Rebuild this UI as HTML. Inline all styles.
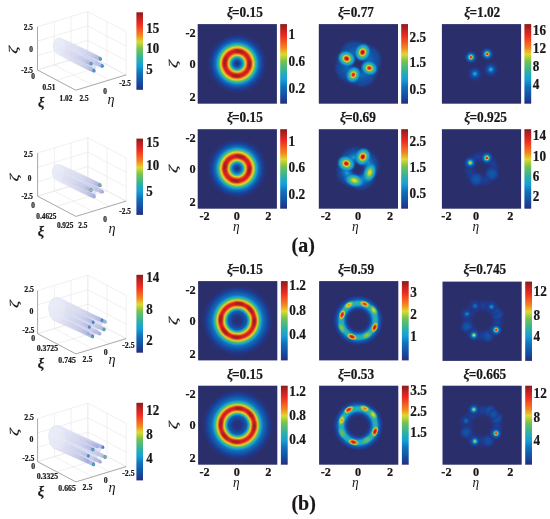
<!DOCTYPE html>
<html><head><meta charset="utf-8"><title>Figure</title>
<style>html,body{margin:0;padding:0;background:#fff}svg{display:block}text{font-family:"Liberation Serif",serif;fill:#1a1617}text[font-weight=bold]{stroke:#1a1617;stroke-width:.22px}</style>
</head><body>
<svg width="550" height="519" viewBox="0 0 550 519">
<defs><linearGradient id="cb" x1="0" y1="0" x2="0" y2="1"><stop offset="0.000" stop-color="#8b1a1a"/><stop offset="0.050" stop-color="#b02020"/><stop offset="0.150" stop-color="#ee2a24"/><stop offset="0.300" stop-color="#f58620"/><stop offset="0.380" stop-color="#dcda30"/><stop offset="0.470" stop-color="#74c250"/><stop offset="0.590" stop-color="#30b2a0"/><stop offset="0.690" stop-color="#14a0d8"/><stop offset="0.785" stop-color="#1270ba"/><stop offset="0.900" stop-color="#1250a2"/><stop offset="0.965" stop-color="#203890"/><stop offset="1.000" stop-color="#2a2f6c"/></linearGradient>
<filter id="b1" x="-50%" y="-50%" width="200%" height="200%"><feGaussianBlur stdDeviation="0.8"/></filter>
<filter id="b2" x="-50%" y="-50%" width="200%" height="200%"><feGaussianBlur stdDeviation="1.6"/></filter>
<radialGradient id="g1"><stop offset="0.000" stop-color="#2a2f6c"/><stop offset="0.017" stop-color="#273276"/><stop offset="0.033" stop-color="#243481"/><stop offset="0.050" stop-color="#21378b"/><stop offset="0.067" stop-color="#1c3f95"/><stop offset="0.083" stop-color="#17479c"/><stop offset="0.100" stop-color="#1250a2"/><stop offset="0.117" stop-color="#125aaa"/><stop offset="0.133" stop-color="#1264b1"/><stop offset="0.150" stop-color="#126eb9"/><stop offset="0.167" stop-color="#137fc3"/><stop offset="0.183" stop-color="#1391cf"/><stop offset="0.200" stop-color="#18a3cf"/><stop offset="0.217" stop-color="#2eb1a3"/><stop offset="0.233" stop-color="#59bc6f"/><stop offset="0.250" stop-color="#89c74a"/><stop offset="0.267" stop-color="#bdd33a"/><stop offset="0.283" stop-color="#e1cb2d"/><stop offset="0.300" stop-color="#eca526"/><stop offset="0.317" stop-color="#f47f20"/><stop offset="0.333" stop-color="#f25b22"/><stop offset="0.350" stop-color="#ef3723"/><stop offset="0.367" stop-color="#e42823"/><stop offset="0.383" stop-color="#cf2522"/><stop offset="0.400" stop-color="#c32321"/><stop offset="0.417" stop-color="#c12321"/><stop offset="0.433" stop-color="#cb2422"/><stop offset="0.450" stop-color="#da2723"/><stop offset="0.467" stop-color="#ed2a24"/><stop offset="0.483" stop-color="#f15022"/><stop offset="0.500" stop-color="#f58620"/><stop offset="0.517" stop-color="#eda225"/><stop offset="0.533" stop-color="#e4be2b"/><stop offset="0.550" stop-color="#dcda30"/><stop offset="0.567" stop-color="#b1d03d"/><stop offset="0.583" stop-color="#85c64b"/><stop offset="0.600" stop-color="#63be64"/><stop offset="0.617" stop-color="#47b785"/><stop offset="0.633" stop-color="#2db0a6"/><stop offset="0.650" stop-color="#1fa7c2"/><stop offset="0.667" stop-color="#149dd6"/><stop offset="0.683" stop-color="#138ecd"/><stop offset="0.700" stop-color="#137fc3"/><stop offset="0.717" stop-color="#1270ba"/><stop offset="0.733" stop-color="#126ab5"/><stop offset="0.750" stop-color="#1263b0"/><stop offset="0.767" stop-color="#125dac"/><stop offset="0.783" stop-color="#1256a7"/><stop offset="0.800" stop-color="#1250a2"/><stop offset="0.817" stop-color="#154a9e"/><stop offset="0.833" stop-color="#18459a"/><stop offset="0.850" stop-color="#1c3f96"/><stop offset="0.867" stop-color="#1f3a91"/><stop offset="0.883" stop-color="#21378e"/><stop offset="0.900" stop-color="#233687"/><stop offset="0.917" stop-color="#253480"/><stop offset="0.933" stop-color="#273278"/><stop offset="0.950" stop-color="#273175"/><stop offset="0.967" stop-color="#283172"/><stop offset="0.983" stop-color="#29306f"/><stop offset="1.000" stop-color="#2a2f6c"/></radialGradient>
<clipPath id="c1"><rect x="197.7" y="24.1" width="79.2" height="79.6"/></clipPath>
<clipPath id="c2"><rect x="197.7" y="129.2" width="79.2" height="79.5"/></clipPath>
<radialGradient id="g2"><stop offset="0.000" stop-color="#2a2f6c"/><stop offset="0.014" stop-color="#29306f"/><stop offset="0.028" stop-color="#293071"/><stop offset="0.042" stop-color="#283174"/><stop offset="0.056" stop-color="#273276"/><stop offset="0.070" stop-color="#273279"/><stop offset="0.085" stop-color="#26337b"/><stop offset="0.099" stop-color="#25337e"/><stop offset="0.113" stop-color="#243480"/><stop offset="0.127" stop-color="#223689"/><stop offset="0.141" stop-color="#1f3991"/><stop offset="0.155" stop-color="#1d3d94"/><stop offset="0.169" stop-color="#1b4197"/><stop offset="0.183" stop-color="#18469b"/><stop offset="0.197" stop-color="#154b9e"/><stop offset="0.211" stop-color="#1250a2"/><stop offset="0.225" stop-color="#1254a5"/><stop offset="0.239" stop-color="#1257a8"/><stop offset="0.254" stop-color="#125baa"/><stop offset="0.268" stop-color="#1269b5"/><stop offset="0.282" stop-color="#137dc2"/><stop offset="0.296" stop-color="#1496d2"/><stop offset="0.310" stop-color="#21a8be"/><stop offset="0.324" stop-color="#3fb58f"/><stop offset="0.338" stop-color="#6bc05a"/><stop offset="0.352" stop-color="#94c946"/><stop offset="0.366" stop-color="#bcd33a"/><stop offset="0.380" stop-color="#dfd12e"/><stop offset="0.394" stop-color="#eda225"/><stop offset="0.408" stop-color="#f47521"/><stop offset="0.423" stop-color="#f04a23"/><stop offset="0.437" stop-color="#eb2a24"/><stop offset="0.451" stop-color="#d42622"/><stop offset="0.465" stop-color="#c42321"/><stop offset="0.479" stop-color="#c22321"/><stop offset="0.493" stop-color="#cf2522"/><stop offset="0.507" stop-color="#e62924"/><stop offset="0.521" stop-color="#f04123"/><stop offset="0.535" stop-color="#f36c21"/><stop offset="0.549" stop-color="#f09723"/><stop offset="0.563" stop-color="#e4c12b"/><stop offset="0.577" stop-color="#cbd635"/><stop offset="0.592" stop-color="#9fcc43"/><stop offset="0.606" stop-color="#74c250"/><stop offset="0.620" stop-color="#58bb71"/><stop offset="0.634" stop-color="#3bb593"/><stop offset="0.648" stop-color="#28adb1"/><stop offset="0.662" stop-color="#1aa4cd"/><stop offset="0.676" stop-color="#1498d3"/><stop offset="0.690" stop-color="#138bcb"/><stop offset="0.704" stop-color="#137dc2"/><stop offset="0.718" stop-color="#1270ba"/><stop offset="0.732" stop-color="#126bb7"/><stop offset="0.746" stop-color="#1267b3"/><stop offset="0.761" stop-color="#1262b0"/><stop offset="0.775" stop-color="#125eac"/><stop offset="0.789" stop-color="#1259a9"/><stop offset="0.803" stop-color="#1255a5"/><stop offset="0.817" stop-color="#1250a2"/><stop offset="0.831" stop-color="#154c9f"/><stop offset="0.845" stop-color="#17479b"/><stop offset="0.859" stop-color="#1a4398"/><stop offset="0.873" stop-color="#1c3e95"/><stop offset="0.887" stop-color="#1f3a91"/><stop offset="0.901" stop-color="#21378e"/><stop offset="0.915" stop-color="#233687"/><stop offset="0.930" stop-color="#253480"/><stop offset="0.944" stop-color="#273278"/><stop offset="0.958" stop-color="#273175"/><stop offset="0.972" stop-color="#283172"/><stop offset="0.986" stop-color="#29306f"/><stop offset="1.000" stop-color="#2a2f6c"/></radialGradient>
<clipPath id="c3"><rect x="198.1" y="281.1" width="79.2" height="79.3"/></clipPath>
<clipPath id="c4"><rect x="198.1" y="385.7" width="79.2" height="79.0"/></clipPath>
<radialGradient id="g3"><stop offset="0.000" stop-color="#2a2f6c"/><stop offset="0.036" stop-color="#2a2f6c"/><stop offset="0.071" stop-color="#2a2f6c"/><stop offset="0.107" stop-color="#2a2f6c"/><stop offset="0.143" stop-color="#2a2f6c"/><stop offset="0.179" stop-color="#2a2f6c"/><stop offset="0.214" stop-color="#273175"/><stop offset="0.250" stop-color="#243481"/><stop offset="0.286" stop-color="#21378c"/><stop offset="0.321" stop-color="#1e3b92"/><stop offset="0.357" stop-color="#194499"/><stop offset="0.393" stop-color="#144da0"/><stop offset="0.429" stop-color="#1255a6"/><stop offset="0.464" stop-color="#125aaa"/><stop offset="0.500" stop-color="#125eac"/><stop offset="0.536" stop-color="#1262af"/><stop offset="0.571" stop-color="#1265b2"/><stop offset="0.607" stop-color="#1269b5"/><stop offset="0.643" stop-color="#1266b3"/><stop offset="0.679" stop-color="#1264b1"/><stop offset="0.714" stop-color="#1261af"/><stop offset="0.750" stop-color="#125ead"/><stop offset="0.786" stop-color="#125bab"/><stop offset="0.821" stop-color="#1259a9"/><stop offset="0.857" stop-color="#1257a7"/><stop offset="0.893" stop-color="#1254a5"/><stop offset="0.929" stop-color="#1252a3"/><stop offset="0.964" stop-color="#124fa2"/><stop offset="1.000" stop-color="#144c9f"/></radialGradient>
<radialGradient id="g4"><stop offset="0.000" stop-color="#8b1a1a"/><stop offset="0.045" stop-color="#951c1c"/><stop offset="0.091" stop-color="#9f1d1d"/><stop offset="0.136" stop-color="#c02221"/><stop offset="0.182" stop-color="#e22823"/><stop offset="0.227" stop-color="#f14e22"/><stop offset="0.273" stop-color="#f58020"/><stop offset="0.318" stop-color="#e6b92a"/><stop offset="0.364" stop-color="#c2d438"/><stop offset="0.409" stop-color="#86c64b"/><stop offset="0.455" stop-color="#62be65"/><stop offset="0.500" stop-color="#49b883"/><stop offset="0.545" stop-color="#30b2a0"/><stop offset="0.591" stop-color="#27acb2"/><stop offset="0.636" stop-color="#1fa7c2"/><stop offset="0.682" stop-color="#17a2d2"/><stop offset="0.727" stop-color="#1497d3" stop-opacity="0.97"/><stop offset="0.773" stop-color="#1389ca" stop-opacity="0.81"/><stop offset="0.818" stop-color="#127bc1" stop-opacity="0.65"/><stop offset="0.864" stop-color="#126fb9" stop-opacity="0.49"/><stop offset="0.909" stop-color="#126ab6" stop-opacity="0.32"/><stop offset="0.955" stop-color="#1266b2" stop-opacity="0.16"/><stop offset="1.000" stop-color="#1261af" stop-opacity="0.00"/></radialGradient>
<radialGradient id="g5"><stop offset="0.000" stop-color="#c32321"/><stop offset="0.048" stop-color="#cb2422"/><stop offset="0.095" stop-color="#d32622"/><stop offset="0.143" stop-color="#ee2e24"/><stop offset="0.190" stop-color="#f15022"/><stop offset="0.238" stop-color="#f58020"/><stop offset="0.286" stop-color="#e1ca2d"/><stop offset="0.333" stop-color="#b1d03d"/><stop offset="0.381" stop-color="#76c24f"/><stop offset="0.429" stop-color="#59bc70"/><stop offset="0.476" stop-color="#41b68d"/><stop offset="0.524" stop-color="#2cb0a8"/><stop offset="0.571" stop-color="#22a9bd"/><stop offset="0.619" stop-color="#1aa4cc"/><stop offset="0.667" stop-color="#149dd6"/><stop offset="0.714" stop-color="#138fce"/><stop offset="0.762" stop-color="#1382c5" stop-opacity="0.85"/><stop offset="0.810" stop-color="#1274bc" stop-opacity="0.68"/><stop offset="0.857" stop-color="#126cb7" stop-opacity="0.51"/><stop offset="0.905" stop-color="#1268b4" stop-opacity="0.34"/><stop offset="0.952" stop-color="#1264b1" stop-opacity="0.17"/><stop offset="1.000" stop-color="#1261af" stop-opacity="0.00"/></radialGradient>
<radialGradient id="g6"><stop offset="0.000" stop-color="#cf2522"/><stop offset="0.048" stop-color="#d72623"/><stop offset="0.095" stop-color="#df2823"/><stop offset="0.143" stop-color="#ef3923"/><stop offset="0.190" stop-color="#f25a22"/><stop offset="0.238" stop-color="#f38c21"/><stop offset="0.286" stop-color="#dcd830"/><stop offset="0.333" stop-color="#a2cd42"/><stop offset="0.381" stop-color="#6ec157"/><stop offset="0.429" stop-color="#53ba77"/><stop offset="0.476" stop-color="#3bb593"/><stop offset="0.524" stop-color="#2aaeac"/><stop offset="0.571" stop-color="#20a7c1"/><stop offset="0.619" stop-color="#18a3d0"/><stop offset="0.667" stop-color="#149ad4"/><stop offset="0.714" stop-color="#138ccc"/><stop offset="0.762" stop-color="#137fc3" stop-opacity="0.85"/><stop offset="0.810" stop-color="#1271bb" stop-opacity="0.68"/><stop offset="0.857" stop-color="#126ab6" stop-opacity="0.51"/><stop offset="0.905" stop-color="#1267b3" stop-opacity="0.34"/><stop offset="0.952" stop-color="#1264b1" stop-opacity="0.17"/><stop offset="1.000" stop-color="#1261af" stop-opacity="0.00"/></radialGradient>
<clipPath id="c5"><rect x="318.8" y="24.1" width="79.2" height="79.6"/></clipPath>
<radialGradient id="g7"><stop offset="0.000" stop-color="#2a2f6c"/><stop offset="0.037" stop-color="#2a2f6c"/><stop offset="0.074" stop-color="#2a2f6c"/><stop offset="0.111" stop-color="#2a2f6c"/><stop offset="0.148" stop-color="#2a2f6c"/><stop offset="0.185" stop-color="#2a2f6c"/><stop offset="0.222" stop-color="#283174"/><stop offset="0.259" stop-color="#25347f"/><stop offset="0.296" stop-color="#22378a"/><stop offset="0.333" stop-color="#1f3a91"/><stop offset="0.370" stop-color="#164a9d"/><stop offset="0.407" stop-color="#1257a7"/><stop offset="0.444" stop-color="#1263b0"/><stop offset="0.481" stop-color="#126db8"/><stop offset="0.519" stop-color="#1276be"/><stop offset="0.556" stop-color="#1382c5"/><stop offset="0.593" stop-color="#138dcc"/><stop offset="0.630" stop-color="#1498d3"/><stop offset="0.667" stop-color="#149dd6"/><stop offset="0.704" stop-color="#1391cf"/><stop offset="0.741" stop-color="#1385c7"/><stop offset="0.778" stop-color="#127ac0"/><stop offset="0.815" stop-color="#126fb9"/><stop offset="0.852" stop-color="#1268b4"/><stop offset="0.889" stop-color="#1262af"/><stop offset="0.926" stop-color="#125baa"/><stop offset="0.963" stop-color="#1254a5"/><stop offset="1.000" stop-color="#144c9f"/></radialGradient>
<radialGradient id="g8"><stop offset="0.000" stop-color="#a91f1f"/><stop offset="0.045" stop-color="#b22020"/><stop offset="0.091" stop-color="#ba2221"/><stop offset="0.136" stop-color="#d62622"/><stop offset="0.182" stop-color="#ef3424"/><stop offset="0.227" stop-color="#f26222"/><stop offset="0.273" stop-color="#ef9a24"/><stop offset="0.318" stop-color="#ded42f"/><stop offset="0.364" stop-color="#a7ce40"/><stop offset="0.409" stop-color="#70c154"/><stop offset="0.455" stop-color="#57bb72"/><stop offset="0.500" stop-color="#3fb58f"/><stop offset="0.545" stop-color="#2bafa9"/><stop offset="0.591" stop-color="#23aaba"/><stop offset="0.636" stop-color="#1ba5ca"/><stop offset="0.682" stop-color="#149fd8"/><stop offset="0.727" stop-color="#1391cf" stop-opacity="0.97"/><stop offset="0.773" stop-color="#1384c6" stop-opacity="0.81"/><stop offset="0.818" stop-color="#1276be" stop-opacity="0.65"/><stop offset="0.864" stop-color="#126fb9" stop-opacity="0.49"/><stop offset="0.909" stop-color="#126eb8" stop-opacity="0.32"/><stop offset="0.955" stop-color="#126db8" stop-opacity="0.16"/><stop offset="1.000" stop-color="#126cb7" stop-opacity="0.00"/></radialGradient>
<radialGradient id="g9"><stop offset="0.000" stop-color="#8b1a1a"/><stop offset="0.045" stop-color="#951c1c"/><stop offset="0.091" stop-color="#9f1d1d"/><stop offset="0.136" stop-color="#c02221"/><stop offset="0.182" stop-color="#e22823"/><stop offset="0.227" stop-color="#f14e22"/><stop offset="0.273" stop-color="#f58020"/><stop offset="0.318" stop-color="#e6b92a"/><stop offset="0.364" stop-color="#c2d438"/><stop offset="0.409" stop-color="#86c64b"/><stop offset="0.455" stop-color="#62be65"/><stop offset="0.500" stop-color="#49b883"/><stop offset="0.545" stop-color="#30b2a0"/><stop offset="0.591" stop-color="#27acb2"/><stop offset="0.636" stop-color="#1fa7c2"/><stop offset="0.682" stop-color="#17a2d2"/><stop offset="0.727" stop-color="#1497d3" stop-opacity="0.97"/><stop offset="0.773" stop-color="#1389ca" stop-opacity="0.81"/><stop offset="0.818" stop-color="#127bc1" stop-opacity="0.65"/><stop offset="0.864" stop-color="#1271bb" stop-opacity="0.49"/><stop offset="0.909" stop-color="#126fb9" stop-opacity="0.32"/><stop offset="0.955" stop-color="#126db8" stop-opacity="0.16"/><stop offset="1.000" stop-color="#126cb7" stop-opacity="0.00"/></radialGradient>
<radialGradient id="g10"><stop offset="0.000" stop-color="#e1ca2d"/><stop offset="0.048" stop-color="#dfd12e"/><stop offset="0.095" stop-color="#ddd830"/><stop offset="0.143" stop-color="#d7d932"/><stop offset="0.190" stop-color="#c0d439"/><stop offset="0.238" stop-color="#aace3f"/><stop offset="0.286" stop-color="#93c947"/><stop offset="0.333" stop-color="#70c154"/><stop offset="0.381" stop-color="#5ebd6a"/><stop offset="0.429" stop-color="#4bb880"/><stop offset="0.476" stop-color="#38b496"/><stop offset="0.524" stop-color="#2bafab"/><stop offset="0.571" stop-color="#21a9bd"/><stop offset="0.619" stop-color="#19a3cf"/><stop offset="0.667" stop-color="#149bd5"/><stop offset="0.714" stop-color="#138ecd" stop-opacity="0.95"/><stop offset="0.762" stop-color="#1381c5" stop-opacity="0.79"/><stop offset="0.810" stop-color="#1276be" stop-opacity="0.63"/><stop offset="0.857" stop-color="#1273bc" stop-opacity="0.48"/><stop offset="0.905" stop-color="#1270ba" stop-opacity="0.32"/><stop offset="0.952" stop-color="#126eb8" stop-opacity="0.16"/><stop offset="1.000" stop-color="#126cb7" stop-opacity="0.00"/></radialGradient>
<clipPath id="c6"><rect x="318.8" y="129.2" width="79.2" height="79.5"/></clipPath>
<radialGradient id="g11"><stop offset="0.000" stop-color="#db2723"/><stop offset="0.056" stop-color="#ea2924"/><stop offset="0.111" stop-color="#ef3923"/><stop offset="0.167" stop-color="#f38c21"/><stop offset="0.222" stop-color="#9bcb44"/><stop offset="0.278" stop-color="#3db591"/><stop offset="0.333" stop-color="#1ca5c7"/><stop offset="0.389" stop-color="#1388c9"/><stop offset="0.444" stop-color="#126fb9"/><stop offset="0.500" stop-color="#1262af"/><stop offset="0.556" stop-color="#1255a6"/><stop offset="0.611" stop-color="#134ea1" stop-opacity="0.97"/><stop offset="0.667" stop-color="#17479b" stop-opacity="0.83"/><stop offset="0.722" stop-color="#1c3f96" stop-opacity="0.69"/><stop offset="0.778" stop-color="#203890" stop-opacity="0.56"/><stop offset="0.833" stop-color="#243583" stop-opacity="0.42"/><stop offset="0.889" stop-color="#26337b" stop-opacity="0.28"/><stop offset="0.944" stop-color="#283174" stop-opacity="0.14"/><stop offset="1.000" stop-color="#2a2f6c" stop-opacity="0.00"/></radialGradient>
<radialGradient id="g12"><stop offset="0.000" stop-color="#22a9bc"/><stop offset="0.045" stop-color="#20a8c0"/><stop offset="0.091" stop-color="#1ea6c5"/><stop offset="0.136" stop-color="#15a1d6"/><stop offset="0.182" stop-color="#138ccb"/><stop offset="0.227" stop-color="#1275bd"/><stop offset="0.273" stop-color="#1267b3"/><stop offset="0.318" stop-color="#125dac"/><stop offset="0.364" stop-color="#1256a7"/><stop offset="0.409" stop-color="#124fa1"/><stop offset="0.455" stop-color="#16499d"/><stop offset="0.500" stop-color="#194499"/><stop offset="0.545" stop-color="#1c3e95"/><stop offset="0.591" stop-color="#1e3b92"/><stop offset="0.636" stop-color="#203890" stop-opacity="0.91"/><stop offset="0.682" stop-color="#223689" stop-opacity="0.80"/><stop offset="0.727" stop-color="#243582" stop-opacity="0.68"/><stop offset="0.773" stop-color="#26337b" stop-opacity="0.57"/><stop offset="0.818" stop-color="#273276" stop-opacity="0.45"/><stop offset="0.864" stop-color="#283174" stop-opacity="0.34"/><stop offset="0.909" stop-color="#293071" stop-opacity="0.23"/><stop offset="0.955" stop-color="#29306f" stop-opacity="0.11"/><stop offset="1.000" stop-color="#2a2f6c" stop-opacity="0.00"/></radialGradient>
<radialGradient id="g13"><stop offset="0.000" stop-color="#1ca5c7"/><stop offset="0.045" stop-color="#1aa4cb"/><stop offset="0.091" stop-color="#18a3cf"/><stop offset="0.136" stop-color="#1499d4"/><stop offset="0.182" stop-color="#1384c6"/><stop offset="0.227" stop-color="#126fba"/><stop offset="0.273" stop-color="#1264b1"/><stop offset="0.318" stop-color="#125baa"/><stop offset="0.364" stop-color="#1254a5"/><stop offset="0.409" stop-color="#144da0"/><stop offset="0.455" stop-color="#17489c"/><stop offset="0.500" stop-color="#1a4298"/><stop offset="0.545" stop-color="#1d3d94"/><stop offset="0.591" stop-color="#1f3a91"/><stop offset="0.636" stop-color="#20388e" stop-opacity="0.91"/><stop offset="0.682" stop-color="#223688" stop-opacity="0.80"/><stop offset="0.727" stop-color="#243481" stop-opacity="0.68"/><stop offset="0.773" stop-color="#26337a" stop-opacity="0.57"/><stop offset="0.818" stop-color="#273176" stop-opacity="0.45"/><stop offset="0.864" stop-color="#283173" stop-opacity="0.34"/><stop offset="0.909" stop-color="#293071" stop-opacity="0.23"/><stop offset="0.955" stop-color="#29306e" stop-opacity="0.11"/><stop offset="1.000" stop-color="#2a2f6c" stop-opacity="0.00"/></radialGradient>
<clipPath id="c7"><rect x="441.9" y="24.1" width="79.2" height="79.6"/></clipPath>
<radialGradient id="g14"><stop offset="0.000" stop-color="#2a2f6c"/><stop offset="0.037" stop-color="#2a2f6c"/><stop offset="0.074" stop-color="#2a2f6c"/><stop offset="0.111" stop-color="#2a2f6c"/><stop offset="0.148" stop-color="#2a2f6c"/><stop offset="0.185" stop-color="#2a2f6c"/><stop offset="0.222" stop-color="#2a2f6c"/><stop offset="0.259" stop-color="#2a2f6c"/><stop offset="0.296" stop-color="#2a2f6c"/><stop offset="0.333" stop-color="#2a2f6c"/><stop offset="0.370" stop-color="#283173"/><stop offset="0.407" stop-color="#26327a"/><stop offset="0.444" stop-color="#243481"/><stop offset="0.481" stop-color="#223687"/><stop offset="0.519" stop-color="#20388e"/><stop offset="0.556" stop-color="#1f3a91"/><stop offset="0.593" stop-color="#1d3c93"/><stop offset="0.630" stop-color="#1c3f95"/><stop offset="0.667" stop-color="#1b4197"/><stop offset="0.704" stop-color="#1c3f95"/><stop offset="0.741" stop-color="#1d3c93"/><stop offset="0.778" stop-color="#1f3a91"/><stop offset="0.815" stop-color="#20388e"/><stop offset="0.852" stop-color="#223687"/><stop offset="0.889" stop-color="#243481"/><stop offset="0.926" stop-color="#26327a"/><stop offset="0.963" stop-color="#283173"/><stop offset="1.000" stop-color="#2a2f6c"/></radialGradient>
<radialGradient id="g15"><stop offset="0.000" stop-color="#1258a8"/><stop offset="0.048" stop-color="#1258a8"/><stop offset="0.095" stop-color="#1257a7"/><stop offset="0.143" stop-color="#1257a7"/><stop offset="0.190" stop-color="#1256a7"/><stop offset="0.238" stop-color="#1255a6"/><stop offset="0.286" stop-color="#1255a6"/><stop offset="0.333" stop-color="#1253a4"/><stop offset="0.381" stop-color="#1251a3"/><stop offset="0.429" stop-color="#134ea1"/><stop offset="0.476" stop-color="#154b9e"/><stop offset="0.524" stop-color="#17489c"/><stop offset="0.571" stop-color="#18459a"/><stop offset="0.619" stop-color="#1a4297" stop-opacity="0.95"/><stop offset="0.667" stop-color="#1c3f95" stop-opacity="0.83"/><stop offset="0.714" stop-color="#1e3b93" stop-opacity="0.71"/><stop offset="0.762" stop-color="#203890" stop-opacity="0.60"/><stop offset="0.810" stop-color="#223688" stop-opacity="0.48"/><stop offset="0.857" stop-color="#25347f" stop-opacity="0.36"/><stop offset="0.905" stop-color="#263279" stop-opacity="0.24"/><stop offset="0.952" stop-color="#283172" stop-opacity="0.12"/><stop offset="1.000" stop-color="#2a2f6c" stop-opacity="0.00"/></radialGradient>
<radialGradient id="g16"><stop offset="0.000" stop-color="#ef9b24"/><stop offset="0.056" stop-color="#e9ae28"/><stop offset="0.111" stop-color="#e2c72c"/><stop offset="0.167" stop-color="#7cc44e"/><stop offset="0.222" stop-color="#3eb58f"/><stop offset="0.278" stop-color="#1ba4ca"/><stop offset="0.333" stop-color="#1388c9"/><stop offset="0.389" stop-color="#126db7"/><stop offset="0.444" stop-color="#1261af"/><stop offset="0.500" stop-color="#1257a8"/><stop offset="0.556" stop-color="#144da0"/><stop offset="0.611" stop-color="#18469b" stop-opacity="0.97"/><stop offset="0.667" stop-color="#1b4196" stop-opacity="0.83"/><stop offset="0.722" stop-color="#1e3b92" stop-opacity="0.69"/><stop offset="0.778" stop-color="#223687" stop-opacity="0.56"/><stop offset="0.833" stop-color="#25337d" stop-opacity="0.42"/><stop offset="0.889" stop-color="#273278" stop-opacity="0.28"/><stop offset="0.944" stop-color="#283072" stop-opacity="0.14"/><stop offset="1.000" stop-color="#2a2f6c" stop-opacity="0.00"/></radialGradient>
<radialGradient id="g17"><stop offset="0.000" stop-color="#c32321"/><stop offset="0.056" stop-color="#d12522"/><stop offset="0.111" stop-color="#e62923"/><stop offset="0.167" stop-color="#f47621"/><stop offset="0.222" stop-color="#b8d23b"/><stop offset="0.278" stop-color="#48b884"/><stop offset="0.333" stop-color="#21a8bf"/><stop offset="0.389" stop-color="#138ecd"/><stop offset="0.444" stop-color="#1272bb"/><stop offset="0.500" stop-color="#1264b1"/><stop offset="0.556" stop-color="#1257a7"/><stop offset="0.611" stop-color="#1250a2" stop-opacity="0.97"/><stop offset="0.667" stop-color="#17489c" stop-opacity="0.83"/><stop offset="0.722" stop-color="#1b4096" stop-opacity="0.69"/><stop offset="0.778" stop-color="#203890" stop-opacity="0.56"/><stop offset="0.833" stop-color="#233584" stop-opacity="0.42"/><stop offset="0.889" stop-color="#26337c" stop-opacity="0.28"/><stop offset="0.944" stop-color="#283174" stop-opacity="0.14"/><stop offset="1.000" stop-color="#2a2f6c" stop-opacity="0.00"/></radialGradient>
<clipPath id="c8"><rect x="441.9" y="129.2" width="79.2" height="79.5"/></clipPath>
<radialGradient id="g18"><stop offset="0.000" stop-color="#2a2f6c"/><stop offset="0.027" stop-color="#2a2f6c"/><stop offset="0.054" stop-color="#2a2f6c"/><stop offset="0.081" stop-color="#2a2f6c"/><stop offset="0.108" stop-color="#2a2f6c"/><stop offset="0.135" stop-color="#2a2f6c"/><stop offset="0.162" stop-color="#2a2f6c"/><stop offset="0.189" stop-color="#2a2f6c"/><stop offset="0.216" stop-color="#2a2f6c"/><stop offset="0.243" stop-color="#2a2f6c"/><stop offset="0.270" stop-color="#2a2f6c"/><stop offset="0.297" stop-color="#2a2f6c"/><stop offset="0.324" stop-color="#2a2f6c"/><stop offset="0.351" stop-color="#2a2f6c"/><stop offset="0.378" stop-color="#273175"/><stop offset="0.405" stop-color="#243583"/><stop offset="0.432" stop-color="#203890"/><stop offset="0.459" stop-color="#1d3d94"/><stop offset="0.486" stop-color="#1250a2"/><stop offset="0.514" stop-color="#125ead"/><stop offset="0.541" stop-color="#126cb7"/><stop offset="0.568" stop-color="#1387c9"/><stop offset="0.595" stop-color="#17a2d2"/><stop offset="0.622" stop-color="#24aab9"/><stop offset="0.649" stop-color="#28adb0"/><stop offset="0.676" stop-color="#2cb0a7"/><stop offset="0.703" stop-color="#29aead"/><stop offset="0.730" stop-color="#25abb6"/><stop offset="0.757" stop-color="#1ca5c8"/><stop offset="0.784" stop-color="#138ccc"/><stop offset="0.811" stop-color="#126db7"/><stop offset="0.838" stop-color="#1260ae"/><stop offset="0.865" stop-color="#1255a5"/><stop offset="0.892" stop-color="#17489c"/><stop offset="0.919" stop-color="#1b4096"/><stop offset="0.946" stop-color="#1f3991"/><stop offset="0.973" stop-color="#243480"/><stop offset="1.000" stop-color="#2a2f6c"/></radialGradient>
<radialGradient id="g19"><stop offset="0.000" stop-color="#c32321"/><stop offset="0.071" stop-color="#c92422"/><stop offset="0.143" stop-color="#d02522"/><stop offset="0.214" stop-color="#df2823"/><stop offset="0.286" stop-color="#ef3424"/><stop offset="0.357" stop-color="#f14e22"/><stop offset="0.429" stop-color="#f36f21"/><stop offset="0.500" stop-color="#ef9924"/><stop offset="0.571" stop-color="#ded32f"/><stop offset="0.643" stop-color="#aecf3e" stop-opacity="0.89"/><stop offset="0.714" stop-color="#78c34f" stop-opacity="0.71"/><stop offset="0.786" stop-color="#5dbd6b" stop-opacity="0.54"/><stop offset="0.857" stop-color="#4ab881" stop-opacity="0.36"/><stop offset="0.929" stop-color="#38b497" stop-opacity="0.18"/><stop offset="1.000" stop-color="#2aaeab" stop-opacity="0.00"/></radialGradient>
<radialGradient id="g20"><stop offset="0.000" stop-color="#f58620"/><stop offset="0.071" stop-color="#f38c21"/><stop offset="0.143" stop-color="#f19322"/><stop offset="0.214" stop-color="#eda225"/><stop offset="0.286" stop-color="#e5bb2a"/><stop offset="0.357" stop-color="#ddd52f"/><stop offset="0.429" stop-color="#bdd33a"/><stop offset="0.500" stop-color="#97ca45"/><stop offset="0.571" stop-color="#73c251"/><stop offset="0.643" stop-color="#64be63" stop-opacity="0.89"/><stop offset="0.714" stop-color="#54bb75" stop-opacity="0.71"/><stop offset="0.786" stop-color="#46b786" stop-opacity="0.54"/><stop offset="0.857" stop-color="#3bb593" stop-opacity="0.36"/><stop offset="0.929" stop-color="#30b2a0" stop-opacity="0.18"/><stop offset="1.000" stop-color="#2aaeab" stop-opacity="0.00"/></radialGradient>
<radialGradient id="g21"><stop offset="0.000" stop-color="#ee3024"/><stop offset="0.071" stop-color="#ef3623"/><stop offset="0.143" stop-color="#ef3b23"/><stop offset="0.214" stop-color="#f04823"/><stop offset="0.286" stop-color="#f25d22"/><stop offset="0.357" stop-color="#f47321"/><stop offset="0.429" stop-color="#f09623"/><stop offset="0.500" stop-color="#e1c82d"/><stop offset="0.571" stop-color="#bad23a"/><stop offset="0.643" stop-color="#8dc848" stop-opacity="0.89"/><stop offset="0.714" stop-color="#6ac05c" stop-opacity="0.71"/><stop offset="0.786" stop-color="#55bb75" stop-opacity="0.54"/><stop offset="0.857" stop-color="#45b788" stop-opacity="0.36"/><stop offset="0.929" stop-color="#35b39a" stop-opacity="0.18"/><stop offset="1.000" stop-color="#2aaeab" stop-opacity="0.00"/></radialGradient>
<radialGradient id="g22"><stop offset="0.000" stop-color="#dcda30"/><stop offset="0.071" stop-color="#d7d932"/><stop offset="0.143" stop-color="#d2d833"/><stop offset="0.214" stop-color="#c5d537"/><stop offset="0.286" stop-color="#b0d03d"/><stop offset="0.357" stop-color="#9bcb44"/><stop offset="0.429" stop-color="#80c54c"/><stop offset="0.500" stop-color="#6cc059"/><stop offset="0.571" stop-color="#5fbd69"/><stop offset="0.643" stop-color="#53ba76" stop-opacity="0.89"/><stop offset="0.714" stop-color="#48b884" stop-opacity="0.71"/><stop offset="0.786" stop-color="#3db590" stop-opacity="0.54"/><stop offset="0.857" stop-color="#35b39a" stop-opacity="0.36"/><stop offset="0.929" stop-color="#2eb1a3" stop-opacity="0.18"/><stop offset="1.000" stop-color="#2aaeab" stop-opacity="0.00"/></radialGradient>
<radialGradient id="g23"><stop offset="0.000" stop-color="#b02020"/><stop offset="0.071" stop-color="#b72120"/><stop offset="0.143" stop-color="#be2221"/><stop offset="0.214" stop-color="#ce2522"/><stop offset="0.286" stop-color="#e92924"/><stop offset="0.357" stop-color="#f04023"/><stop offset="0.429" stop-color="#f26322"/><stop offset="0.500" stop-color="#f48820"/><stop offset="0.571" stop-color="#e2c52c"/><stop offset="0.643" stop-color="#bad23a" stop-opacity="0.89"/><stop offset="0.714" stop-color="#82c54c" stop-opacity="0.71"/><stop offset="0.786" stop-color="#61bd67" stop-opacity="0.54"/><stop offset="0.857" stop-color="#4db97e" stop-opacity="0.36"/><stop offset="0.929" stop-color="#39b496" stop-opacity="0.18"/><stop offset="1.000" stop-color="#2aaeab" stop-opacity="0.00"/></radialGradient>
<radialGradient id="g24"><stop offset="0.000" stop-color="#97ca45"/><stop offset="0.071" stop-color="#93c947"/><stop offset="0.143" stop-color="#8fc848"/><stop offset="0.214" stop-color="#86c64b"/><stop offset="0.286" stop-color="#76c34f"/><stop offset="0.357" stop-color="#6ec058"/><stop offset="0.429" stop-color="#64be63"/><stop offset="0.500" stop-color="#5abc6f"/><stop offset="0.571" stop-color="#50b97b"/><stop offset="0.643" stop-color="#47b785" stop-opacity="0.89"/><stop offset="0.714" stop-color="#3fb58f" stop-opacity="0.71"/><stop offset="0.786" stop-color="#37b498" stop-opacity="0.54"/><stop offset="0.857" stop-color="#31b29f" stop-opacity="0.36"/><stop offset="0.929" stop-color="#2db0a5" stop-opacity="0.18"/><stop offset="1.000" stop-color="#2aaeab" stop-opacity="0.00"/></radialGradient>
<radialGradient id="g25"><stop offset="0.000" stop-color="#8bc749"/><stop offset="0.071" stop-color="#87c64a"/><stop offset="0.143" stop-color="#84c64b"/><stop offset="0.214" stop-color="#7bc44e"/><stop offset="0.286" stop-color="#70c154"/><stop offset="0.357" stop-color="#69bf5d"/><stop offset="0.429" stop-color="#60bd67"/><stop offset="0.500" stop-color="#57bb73"/><stop offset="0.571" stop-color="#4db97e"/><stop offset="0.643" stop-color="#45b787" stop-opacity="0.89"/><stop offset="0.714" stop-color="#3db590" stop-opacity="0.71"/><stop offset="0.786" stop-color="#36b399" stop-opacity="0.54"/><stop offset="0.857" stop-color="#30b2a0" stop-opacity="0.36"/><stop offset="0.929" stop-color="#2db0a6" stop-opacity="0.18"/><stop offset="1.000" stop-color="#2aaeab" stop-opacity="0.00"/></radialGradient>
<clipPath id="c9"><rect x="319.1" y="281.1" width="79.2" height="79.3"/></clipPath>
<radialGradient id="g26"><stop offset="0.000" stop-color="#f36d21"/><stop offset="0.071" stop-color="#f37221"/><stop offset="0.143" stop-color="#f47621"/><stop offset="0.214" stop-color="#f58020"/><stop offset="0.286" stop-color="#f09824"/><stop offset="0.357" stop-color="#e7b529"/><stop offset="0.429" stop-color="#dbda30"/><stop offset="0.500" stop-color="#b1d03d"/><stop offset="0.571" stop-color="#87c64a"/><stop offset="0.643" stop-color="#6cc05a" stop-opacity="0.89"/><stop offset="0.714" stop-color="#5abc6e" stop-opacity="0.71"/><stop offset="0.786" stop-color="#4ab881" stop-opacity="0.54"/><stop offset="0.857" stop-color="#3eb590" stop-opacity="0.36"/><stop offset="0.929" stop-color="#31b29f" stop-opacity="0.18"/><stop offset="1.000" stop-color="#2aaeab" stop-opacity="0.00"/></radialGradient>
<radialGradient id="g27"><stop offset="0.000" stop-color="#a11e1e"/><stop offset="0.071" stop-color="#aa1f1f"/><stop offset="0.143" stop-color="#b22020"/><stop offset="0.214" stop-color="#c22321"/><stop offset="0.286" stop-color="#df2823"/><stop offset="0.357" stop-color="#ef3723"/><stop offset="0.429" stop-color="#f25b22"/><stop offset="0.500" stop-color="#f58020"/><stop offset="0.571" stop-color="#e5bc2a"/><stop offset="0.643" stop-color="#c3d438" stop-opacity="0.89"/><stop offset="0.714" stop-color="#88c74a" stop-opacity="0.71"/><stop offset="0.786" stop-color="#63be64" stop-opacity="0.54"/><stop offset="0.857" stop-color="#4eb97d" stop-opacity="0.36"/><stop offset="0.929" stop-color="#39b495" stop-opacity="0.18"/><stop offset="1.000" stop-color="#2aaeab" stop-opacity="0.00"/></radialGradient>
<radialGradient id="g28"><stop offset="0.000" stop-color="#63be64"/><stop offset="0.071" stop-color="#62be65"/><stop offset="0.143" stop-color="#61bd67"/><stop offset="0.214" stop-color="#5ebd6a"/><stop offset="0.286" stop-color="#59bc70"/><stop offset="0.357" stop-color="#54ba76"/><stop offset="0.429" stop-color="#4db97d"/><stop offset="0.500" stop-color="#47b785"/><stop offset="0.571" stop-color="#40b68d"/><stop offset="0.643" stop-color="#3bb593" stop-opacity="0.89"/><stop offset="0.714" stop-color="#36b399" stop-opacity="0.71"/><stop offset="0.786" stop-color="#30b2a0" stop-opacity="0.54"/><stop offset="0.857" stop-color="#2eb1a3" stop-opacity="0.36"/><stop offset="0.929" stop-color="#2cb0a7" stop-opacity="0.18"/><stop offset="1.000" stop-color="#2aaeab" stop-opacity="0.00"/></radialGradient>
<clipPath id="c10"><rect x="319.1" y="385.7" width="79.2" height="79.0"/></clipPath>
<radialGradient id="g29"><stop offset="0.000" stop-color="#2a2f6c"/><stop offset="0.031" stop-color="#2a2f6c"/><stop offset="0.062" stop-color="#2a2f6c"/><stop offset="0.094" stop-color="#2a2f6c"/><stop offset="0.125" stop-color="#2a2f6c"/><stop offset="0.156" stop-color="#2a2f6c"/><stop offset="0.188" stop-color="#2a2f6c"/><stop offset="0.219" stop-color="#2a2f6c"/><stop offset="0.250" stop-color="#2a2f6c"/><stop offset="0.281" stop-color="#2a2f6c"/><stop offset="0.312" stop-color="#2a2f6c"/><stop offset="0.344" stop-color="#2a2f6c"/><stop offset="0.375" stop-color="#2a2f6c"/><stop offset="0.406" stop-color="#2a2f6c"/><stop offset="0.438" stop-color="#293071"/><stop offset="0.469" stop-color="#263279"/><stop offset="0.500" stop-color="#243481"/><stop offset="0.531" stop-color="#223689"/><stop offset="0.562" stop-color="#203890"/><stop offset="0.594" stop-color="#1e3b92"/><stop offset="0.625" stop-color="#1c3e95"/><stop offset="0.656" stop-color="#1b4197"/><stop offset="0.688" stop-color="#194499"/><stop offset="0.719" stop-color="#1a4398"/><stop offset="0.750" stop-color="#1b4096"/><stop offset="0.781" stop-color="#1d3d94"/><stop offset="0.812" stop-color="#1f3a92"/><stop offset="0.844" stop-color="#20388f"/><stop offset="0.875" stop-color="#223688"/><stop offset="0.906" stop-color="#243481"/><stop offset="0.938" stop-color="#26327a"/><stop offset="0.969" stop-color="#283173"/><stop offset="1.000" stop-color="#2a2f6c"/></radialGradient>
<radialGradient id="g30"><stop offset="0.000" stop-color="#1256a6"/><stop offset="0.056" stop-color="#1255a6"/><stop offset="0.111" stop-color="#1254a5"/><stop offset="0.167" stop-color="#1254a5"/><stop offset="0.222" stop-color="#1253a4"/><stop offset="0.278" stop-color="#1252a4"/><stop offset="0.333" stop-color="#1251a3"/><stop offset="0.389" stop-color="#134ea0"/><stop offset="0.444" stop-color="#154a9e"/><stop offset="0.500" stop-color="#17479b"/><stop offset="0.556" stop-color="#194499"/><stop offset="0.611" stop-color="#1b4196" stop-opacity="0.97"/><stop offset="0.667" stop-color="#1d3d94" stop-opacity="0.83"/><stop offset="0.722" stop-color="#1f3a91" stop-opacity="0.69"/><stop offset="0.778" stop-color="#21378b" stop-opacity="0.56"/><stop offset="0.833" stop-color="#243481" stop-opacity="0.42"/><stop offset="0.889" stop-color="#26327a" stop-opacity="0.28"/><stop offset="0.944" stop-color="#283173" stop-opacity="0.14"/><stop offset="1.000" stop-color="#2a2f6c" stop-opacity="0.00"/></radialGradient>
<radialGradient id="g31"><stop offset="0.000" stop-color="#1258a8"/><stop offset="0.056" stop-color="#1258a8"/><stop offset="0.111" stop-color="#1257a7"/><stop offset="0.167" stop-color="#1256a7"/><stop offset="0.222" stop-color="#1256a6"/><stop offset="0.278" stop-color="#1255a6"/><stop offset="0.333" stop-color="#1253a4"/><stop offset="0.389" stop-color="#1250a2"/><stop offset="0.444" stop-color="#144da0"/><stop offset="0.500" stop-color="#16499d"/><stop offset="0.556" stop-color="#18469a"/><stop offset="0.611" stop-color="#1a4298" stop-opacity="0.97"/><stop offset="0.667" stop-color="#1c3f95" stop-opacity="0.83"/><stop offset="0.722" stop-color="#1e3b92" stop-opacity="0.69"/><stop offset="0.778" stop-color="#21378e" stop-opacity="0.56"/><stop offset="0.833" stop-color="#243583" stop-opacity="0.42"/><stop offset="0.889" stop-color="#26337b" stop-opacity="0.28"/><stop offset="0.944" stop-color="#283173" stop-opacity="0.14"/><stop offset="1.000" stop-color="#2a2f6c" stop-opacity="0.00"/></radialGradient>
<radialGradient id="g32"><stop offset="0.000" stop-color="#1253a4"/><stop offset="0.056" stop-color="#1252a4"/><stop offset="0.111" stop-color="#1252a3"/><stop offset="0.167" stop-color="#1251a3"/><stop offset="0.222" stop-color="#1251a2"/><stop offset="0.278" stop-color="#1250a2"/><stop offset="0.333" stop-color="#134ea0"/><stop offset="0.389" stop-color="#154b9e"/><stop offset="0.444" stop-color="#17489c"/><stop offset="0.500" stop-color="#19459a"/><stop offset="0.556" stop-color="#1a4297"/><stop offset="0.611" stop-color="#1c3f95" stop-opacity="0.97"/><stop offset="0.667" stop-color="#1e3c93" stop-opacity="0.83"/><stop offset="0.722" stop-color="#203890" stop-opacity="0.69"/><stop offset="0.778" stop-color="#223688" stop-opacity="0.56"/><stop offset="0.833" stop-color="#253480" stop-opacity="0.42"/><stop offset="0.889" stop-color="#273279" stop-opacity="0.28"/><stop offset="0.944" stop-color="#283172" stop-opacity="0.14"/><stop offset="1.000" stop-color="#2a2f6c" stop-opacity="0.00"/></radialGradient>
<radialGradient id="g33"><stop offset="0.000" stop-color="#1250a2"/><stop offset="0.056" stop-color="#124fa1"/><stop offset="0.111" stop-color="#134fa1"/><stop offset="0.167" stop-color="#134ea0"/><stop offset="0.222" stop-color="#144da0"/><stop offset="0.278" stop-color="#144d9f"/><stop offset="0.333" stop-color="#154b9e"/><stop offset="0.389" stop-color="#17489c"/><stop offset="0.444" stop-color="#18459a"/><stop offset="0.500" stop-color="#1a4298"/><stop offset="0.556" stop-color="#1b4096"/><stop offset="0.611" stop-color="#1d3d94" stop-opacity="0.97"/><stop offset="0.667" stop-color="#1f3a92" stop-opacity="0.83"/><stop offset="0.722" stop-color="#21378e" stop-opacity="0.69"/><stop offset="0.778" stop-color="#233586" stop-opacity="0.56"/><stop offset="0.833" stop-color="#25337e" stop-opacity="0.42"/><stop offset="0.889" stop-color="#273277" stop-opacity="0.28"/><stop offset="0.944" stop-color="#283072" stop-opacity="0.14"/><stop offset="1.000" stop-color="#2a2f6c" stop-opacity="0.00"/></radialGradient>
<radialGradient id="g34"><stop offset="0.000" stop-color="#1250a2"/><stop offset="0.062" stop-color="#124fa1"/><stop offset="0.125" stop-color="#134ea1"/><stop offset="0.188" stop-color="#134ea0"/><stop offset="0.250" stop-color="#144da0"/><stop offset="0.312" stop-color="#154c9f"/><stop offset="0.375" stop-color="#16499c"/><stop offset="0.438" stop-color="#18469a"/><stop offset="0.500" stop-color="#1a4298"/><stop offset="0.562" stop-color="#1c3f96"/><stop offset="0.625" stop-color="#1e3c93" stop-opacity="0.94"/><stop offset="0.688" stop-color="#1f3991" stop-opacity="0.78"/><stop offset="0.750" stop-color="#22368a" stop-opacity="0.62"/><stop offset="0.812" stop-color="#243481" stop-opacity="0.47"/><stop offset="0.875" stop-color="#263279" stop-opacity="0.31"/><stop offset="0.938" stop-color="#283172" stop-opacity="0.16"/><stop offset="1.000" stop-color="#2a2f6c" stop-opacity="0.00"/></radialGradient>
<radialGradient id="g35"><stop offset="0.000" stop-color="#138ccb"/><stop offset="0.062" stop-color="#1388c9"/><stop offset="0.125" stop-color="#137ec3"/><stop offset="0.188" stop-color="#126bb6"/><stop offset="0.250" stop-color="#125fad"/><stop offset="0.312" stop-color="#1254a5"/><stop offset="0.375" stop-color="#154b9e"/><stop offset="0.438" stop-color="#194399"/><stop offset="0.500" stop-color="#1d3e94"/><stop offset="0.562" stop-color="#203890"/><stop offset="0.625" stop-color="#223689" stop-opacity="0.94"/><stop offset="0.688" stop-color="#243481" stop-opacity="0.78"/><stop offset="0.750" stop-color="#26337a" stop-opacity="0.62"/><stop offset="0.812" stop-color="#283174" stop-opacity="0.47"/><stop offset="0.875" stop-color="#293071" stop-opacity="0.31"/><stop offset="0.938" stop-color="#29306f" stop-opacity="0.16"/><stop offset="1.000" stop-color="#2a2f6c" stop-opacity="0.00"/></radialGradient>
<radialGradient id="g36"><stop offset="0.000" stop-color="#1273bc"/><stop offset="0.062" stop-color="#1270ba"/><stop offset="0.125" stop-color="#126bb6"/><stop offset="0.188" stop-color="#1261af"/><stop offset="0.250" stop-color="#1257a7"/><stop offset="0.312" stop-color="#144da0"/><stop offset="0.375" stop-color="#18459a"/><stop offset="0.438" stop-color="#1c3f95"/><stop offset="0.500" stop-color="#1f3a92"/><stop offset="0.562" stop-color="#223689"/><stop offset="0.625" stop-color="#243583" stop-opacity="0.94"/><stop offset="0.688" stop-color="#25337d" stop-opacity="0.78"/><stop offset="0.750" stop-color="#273278" stop-opacity="0.62"/><stop offset="0.812" stop-color="#283172" stop-opacity="0.47"/><stop offset="0.875" stop-color="#293070" stop-opacity="0.31"/><stop offset="0.938" stop-color="#29306e" stop-opacity="0.16"/><stop offset="1.000" stop-color="#2a2f6c" stop-opacity="0.00"/></radialGradient>
<radialGradient id="g37"><stop offset="0.000" stop-color="#149bd5"/><stop offset="0.062" stop-color="#1497d2"/><stop offset="0.125" stop-color="#138ccb"/><stop offset="0.188" stop-color="#1273bc"/><stop offset="0.250" stop-color="#1263b1"/><stop offset="0.312" stop-color="#1257a7"/><stop offset="0.375" stop-color="#134fa1"/><stop offset="0.438" stop-color="#18469b"/><stop offset="0.500" stop-color="#1c4096"/><stop offset="0.562" stop-color="#1f3991"/><stop offset="0.625" stop-color="#21378c" stop-opacity="0.94"/><stop offset="0.688" stop-color="#233584" stop-opacity="0.78"/><stop offset="0.750" stop-color="#26337c" stop-opacity="0.62"/><stop offset="0.812" stop-color="#283175" stop-opacity="0.47"/><stop offset="0.875" stop-color="#283072" stop-opacity="0.31"/><stop offset="0.938" stop-color="#29306f" stop-opacity="0.16"/><stop offset="1.000" stop-color="#2a2f6c" stop-opacity="0.00"/></radialGradient>
<radialGradient id="g38"><stop offset="0.000" stop-color="#cf2522"/><stop offset="0.062" stop-color="#df2823"/><stop offset="0.125" stop-color="#f04223"/><stop offset="0.188" stop-color="#e9b028"/><stop offset="0.250" stop-color="#68bf5e"/><stop offset="0.312" stop-color="#27acb2"/><stop offset="0.375" stop-color="#1495d1"/><stop offset="0.438" stop-color="#1273bc"/><stop offset="0.500" stop-color="#1263b0"/><stop offset="0.562" stop-color="#1254a5"/><stop offset="0.625" stop-color="#144da0" stop-opacity="0.94"/><stop offset="0.688" stop-color="#194599" stop-opacity="0.78"/><stop offset="0.750" stop-color="#1e3c93" stop-opacity="0.62"/><stop offset="0.812" stop-color="#233686" stop-opacity="0.47"/><stop offset="0.875" stop-color="#25337d" stop-opacity="0.31"/><stop offset="0.938" stop-color="#283175" stop-opacity="0.16"/><stop offset="1.000" stop-color="#2a2f6c" stop-opacity="0.00"/></radialGradient>
<radialGradient id="g39"><stop offset="0.000" stop-color="#e2c52c"/><stop offset="0.062" stop-color="#dcd930"/><stop offset="0.125" stop-color="#aace3f"/><stop offset="0.188" stop-color="#52ba78"/><stop offset="0.250" stop-color="#23a9bb"/><stop offset="0.312" stop-color="#138bcb"/><stop offset="0.375" stop-color="#126db8"/><stop offset="0.438" stop-color="#1260ae"/><stop offset="0.500" stop-color="#1255a6"/><stop offset="0.562" stop-color="#164a9d"/><stop offset="0.625" stop-color="#194399" stop-opacity="0.94"/><stop offset="0.688" stop-color="#1d3d94" stop-opacity="0.78"/><stop offset="0.750" stop-color="#21378d" stop-opacity="0.62"/><stop offset="0.812" stop-color="#25347f" stop-opacity="0.47"/><stop offset="0.875" stop-color="#273278" stop-opacity="0.31"/><stop offset="0.938" stop-color="#283172" stop-opacity="0.16"/><stop offset="1.000" stop-color="#2a2f6c" stop-opacity="0.00"/></radialGradient>
<clipPath id="c11"><rect x="442.5" y="281.6" width="79.2" height="79.3"/></clipPath>
<radialGradient id="g40"><stop offset="0.000" stop-color="#125baa"/><stop offset="0.056" stop-color="#125aaa"/><stop offset="0.111" stop-color="#125aa9"/><stop offset="0.167" stop-color="#1259a9"/><stop offset="0.222" stop-color="#1258a8"/><stop offset="0.278" stop-color="#1258a8"/><stop offset="0.333" stop-color="#1256a6"/><stop offset="0.389" stop-color="#1253a4"/><stop offset="0.444" stop-color="#1250a2"/><stop offset="0.500" stop-color="#144c9f"/><stop offset="0.556" stop-color="#17489c"/><stop offset="0.611" stop-color="#194499" stop-opacity="0.97"/><stop offset="0.667" stop-color="#1b4096" stop-opacity="0.83"/><stop offset="0.722" stop-color="#1e3c93" stop-opacity="0.69"/><stop offset="0.778" stop-color="#203890" stop-opacity="0.56"/><stop offset="0.833" stop-color="#233585" stop-opacity="0.42"/><stop offset="0.889" stop-color="#26337c" stop-opacity="0.28"/><stop offset="0.944" stop-color="#283174" stop-opacity="0.14"/><stop offset="1.000" stop-color="#2a2f6c" stop-opacity="0.00"/></radialGradient>
<radialGradient id="g41"><stop offset="0.000" stop-color="#1253a4"/><stop offset="0.062" stop-color="#1252a4"/><stop offset="0.125" stop-color="#1252a3"/><stop offset="0.188" stop-color="#1251a3"/><stop offset="0.250" stop-color="#1250a2"/><stop offset="0.312" stop-color="#134fa1"/><stop offset="0.375" stop-color="#154c9f"/><stop offset="0.438" stop-color="#17489c"/><stop offset="0.500" stop-color="#19459a"/><stop offset="0.562" stop-color="#1b4197"/><stop offset="0.625" stop-color="#1d3e94" stop-opacity="0.94"/><stop offset="0.688" stop-color="#1f3a92" stop-opacity="0.78"/><stop offset="0.750" stop-color="#21378d" stop-opacity="0.62"/><stop offset="0.812" stop-color="#243583" stop-opacity="0.47"/><stop offset="0.875" stop-color="#26337a" stop-opacity="0.31"/><stop offset="0.938" stop-color="#283173" stop-opacity="0.16"/><stop offset="1.000" stop-color="#2a2f6c" stop-opacity="0.00"/></radialGradient>
<radialGradient id="g42"><stop offset="0.000" stop-color="#dcda30"/><stop offset="0.062" stop-color="#c7d536"/><stop offset="0.125" stop-color="#95ca46"/><stop offset="0.188" stop-color="#49b882"/><stop offset="0.250" stop-color="#1fa7c1"/><stop offset="0.312" stop-color="#1387c8"/><stop offset="0.375" stop-color="#126bb7"/><stop offset="0.438" stop-color="#125ead"/><stop offset="0.500" stop-color="#1254a5"/><stop offset="0.562" stop-color="#16499c"/><stop offset="0.625" stop-color="#1a4398" stop-opacity="0.94"/><stop offset="0.688" stop-color="#1d3d94" stop-opacity="0.78"/><stop offset="0.750" stop-color="#21378c" stop-opacity="0.62"/><stop offset="0.812" stop-color="#25337e" stop-opacity="0.47"/><stop offset="0.875" stop-color="#273278" stop-opacity="0.31"/><stop offset="0.938" stop-color="#283072" stop-opacity="0.16"/><stop offset="1.000" stop-color="#2a2f6c" stop-opacity="0.00"/></radialGradient>
<radialGradient id="g43"><stop offset="0.000" stop-color="#c5d537"/><stop offset="0.062" stop-color="#b1d03d"/><stop offset="0.125" stop-color="#80c54c"/><stop offset="0.188" stop-color="#41b68c"/><stop offset="0.250" stop-color="#1ca5c7"/><stop offset="0.312" stop-color="#1383c6"/><stop offset="0.375" stop-color="#126ab5"/><stop offset="0.438" stop-color="#125dac"/><stop offset="0.500" stop-color="#1253a4"/><stop offset="0.562" stop-color="#17489c"/><stop offset="0.625" stop-color="#1a4297" stop-opacity="0.94"/><stop offset="0.688" stop-color="#1e3c93" stop-opacity="0.78"/><stop offset="0.750" stop-color="#21378b" stop-opacity="0.62"/><stop offset="0.812" stop-color="#25337d" stop-opacity="0.47"/><stop offset="0.875" stop-color="#273278" stop-opacity="0.31"/><stop offset="0.938" stop-color="#283072" stop-opacity="0.16"/><stop offset="1.000" stop-color="#2a2f6c" stop-opacity="0.00"/></radialGradient>
<radialGradient id="g44"><stop offset="0.000" stop-color="#126cb7"/><stop offset="0.062" stop-color="#126ab6"/><stop offset="0.125" stop-color="#1266b3"/><stop offset="0.188" stop-color="#125dac"/><stop offset="0.250" stop-color="#1254a5"/><stop offset="0.312" stop-color="#154a9e"/><stop offset="0.375" stop-color="#1a4398"/><stop offset="0.438" stop-color="#1d3d94"/><stop offset="0.500" stop-color="#203991"/><stop offset="0.562" stop-color="#233687"/><stop offset="0.625" stop-color="#243481" stop-opacity="0.94"/><stop offset="0.688" stop-color="#26337c" stop-opacity="0.78"/><stop offset="0.750" stop-color="#273276" stop-opacity="0.62"/><stop offset="0.812" stop-color="#283072" stop-opacity="0.47"/><stop offset="0.875" stop-color="#293070" stop-opacity="0.31"/><stop offset="0.938" stop-color="#292f6e" stop-opacity="0.16"/><stop offset="1.000" stop-color="#2a2f6c" stop-opacity="0.00"/></radialGradient>
<clipPath id="c12"><rect x="442.5" y="385.7" width="79.2" height="79.0"/></clipPath>
<linearGradient id="tube" x1="0" y1="0" x2="1" y2="0"><stop offset="0" stop-color="#d9dbf0" stop-opacity="0.0"/><stop offset="0.4" stop-color="#d0d3ec" stop-opacity="0.3"/><stop offset="0.78" stop-color="#bcc1e4" stop-opacity="0.65"/><stop offset="1" stop-color="#9fa8d9" stop-opacity="0.9"/></linearGradient>
<linearGradient id="hull" x1="0" y1="0" x2="1" y2="0.4"><stop offset="0" stop-color="#e3e5f5" stop-opacity="0.8"/><stop offset="0.6" stop-color="#d9dcf1" stop-opacity="0.8"/><stop offset="1" stop-color="#ccd0ec" stop-opacity="0.65"/></linearGradient>
<filter id="b0" x="-20%" y="-20%" width="140%" height="140%"><feGaussianBlur stdDeviation="0.5"/></filter></defs>
<rect width="550" height="519" fill="#fff"/>
<rect x="197.7" y="24.1" width="79.2" height="79.6" fill="#2a2f6c"/>
<g clip-path="url(#c1)"><circle cx="237.1" cy="63.5" r="30.0" fill="url(#g1)"/><ellipse cx="239.2" cy="51.3" rx="4.4" ry="1.4" fill="#8b1a1a" opacity="0.85" transform="rotate(10.0 239.2 51.3)" filter="url(#b1)"/><ellipse cx="224.8" cy="62.4" rx="4.4" ry="1.4" fill="#8b1a1a" opacity="0.85" transform="rotate(-85.0 224.8 62.4)" filter="url(#b1)"/><ellipse cx="236.0" cy="75.7" rx="4.4" ry="1.4" fill="#8b1a1a" opacity="0.85" transform="rotate(-175.0 236.0 75.7)" filter="url(#b1)"/><ellipse cx="249.4" cy="64.5" rx="4.4" ry="1.4" fill="#8b1a1a" opacity="0.85" transform="rotate(-265.0 249.4 64.5)" filter="url(#b1)"/></g>
<rect x="280.2" y="24.1" width="6.8" height="79.6" fill="url(#cb)"/>
<text transform="translate(244.1 16.9) scale(0.950 1)" font-size="14" text-anchor="middle" font-weight="bold"><tspan font-style="italic" dx="0.8">ξ</tspan><tspan dx="-0.9">=0.15</tspan></text>
<rect x="197.7" y="129.2" width="79.2" height="79.5" fill="#2a2f6c"/>
<g clip-path="url(#c2)"><circle cx="237.1" cy="168.5" r="30.0" fill="url(#g1)"/><ellipse cx="240.3" cy="156.7" rx="4.4" ry="1.4" fill="#8b1a1a" opacity="0.85" transform="rotate(15.0 240.3 156.7)" filter="url(#b1)"/><ellipse cx="225.0" cy="166.4" rx="4.4" ry="1.4" fill="#8b1a1a" opacity="0.85" transform="rotate(-80.0 225.0 166.4)" filter="url(#b1)"/><ellipse cx="235.0" cy="180.7" rx="4.4" ry="1.4" fill="#8b1a1a" opacity="0.85" transform="rotate(-170.0 235.0 180.7)" filter="url(#b1)"/><ellipse cx="249.2" cy="170.7" rx="4.4" ry="1.4" fill="#8b1a1a" opacity="0.85" transform="rotate(-260.0 249.2 170.7)" filter="url(#b1)"/></g>
<rect x="280.2" y="129.2" width="6.8" height="79.5" fill="url(#cb)"/>
<text transform="translate(244.1 122.0) scale(0.950 1)" font-size="14" text-anchor="middle" font-weight="bold"><tspan font-style="italic" dx="0.8">ξ</tspan><tspan dx="-0.9">=0.15</tspan></text>
<rect x="198.1" y="281.1" width="79.2" height="79.3" fill="#2a2f6c"/>
<g clip-path="url(#c3)"><circle cx="237.5" cy="320.5" r="35.5" fill="url(#g2)"/><ellipse cx="239.0" cy="303.7" rx="4.4" ry="1.4" fill="#8b1a1a" opacity="0.85" transform="rotate(5.0 239.0 303.7)" filter="url(#b1)"/><ellipse cx="220.8" cy="319.0" rx="4.4" ry="1.4" fill="#8b1a1a" opacity="0.85" transform="rotate(-85.0 220.8 319.0)" filter="url(#b1)"/><ellipse cx="236.0" cy="337.2" rx="4.4" ry="1.4" fill="#8b1a1a" opacity="0.85" transform="rotate(-175.0 236.0 337.2)" filter="url(#b1)"/><ellipse cx="254.2" cy="321.9" rx="4.4" ry="1.4" fill="#8b1a1a" opacity="0.85" transform="rotate(-265.0 254.2 321.9)" filter="url(#b1)"/><ellipse cx="250.4" cy="309.7" rx="4.4" ry="1.4" fill="#8b1a1a" opacity="0.85" transform="rotate(50.0 250.4 309.7)" filter="url(#b1)"/><ellipse cx="224.6" cy="331.2" rx="4.4" ry="1.4" fill="#8b1a1a" opacity="0.85" transform="rotate(-130.0 224.6 331.2)" filter="url(#b1)"/></g>
<rect x="280.9" y="281.1" width="6.8" height="79.3" fill="url(#cb)"/>
<text transform="translate(244.1 273.9) scale(0.950 1)" font-size="14" text-anchor="middle" font-weight="bold"><tspan font-style="italic" dx="0.8">ξ</tspan><tspan dx="-0.9">=0.15</tspan></text>
<rect x="198.1" y="385.7" width="79.2" height="79.0" fill="#2a2f6c"/>
<g clip-path="url(#c4)"><circle cx="237.5" cy="425.1" r="35.5" fill="url(#g2)"/><ellipse cx="239.0" cy="408.3" rx="4.4" ry="1.4" fill="#8b1a1a" opacity="0.85" transform="rotate(5.0 239.0 408.3)" filter="url(#b1)"/><ellipse cx="220.8" cy="423.6" rx="4.4" ry="1.4" fill="#8b1a1a" opacity="0.85" transform="rotate(-85.0 220.8 423.6)" filter="url(#b1)"/><ellipse cx="236.0" cy="441.8" rx="4.4" ry="1.4" fill="#8b1a1a" opacity="0.85" transform="rotate(-175.0 236.0 441.8)" filter="url(#b1)"/><ellipse cx="254.2" cy="426.5" rx="4.4" ry="1.4" fill="#8b1a1a" opacity="0.85" transform="rotate(-265.0 254.2 426.5)" filter="url(#b1)"/><ellipse cx="250.4" cy="414.3" rx="4.4" ry="1.4" fill="#8b1a1a" opacity="0.85" transform="rotate(50.0 250.4 414.3)" filter="url(#b1)"/><ellipse cx="224.6" cy="435.8" rx="4.4" ry="1.4" fill="#8b1a1a" opacity="0.85" transform="rotate(-130.0 224.6 435.8)" filter="url(#b1)"/></g>
<rect x="280.9" y="385.7" width="6.8" height="79.0" fill="url(#cb)"/>
<text transform="translate(244.1 378.5) scale(0.950 1)" font-size="14" text-anchor="middle" font-weight="bold"><tspan font-style="italic" dx="0.8">ξ</tspan><tspan dx="-0.9">=0.15</tspan></text>
<rect x="318.8" y="24.1" width="79.2" height="79.6" fill="#2a2f6c"/>
<g clip-path="url(#c5)"><rect x="337.9" y="43.5" width="40.6" height="40.6" rx="14.0" fill="#144c9f" transform="rotate(22.0 358.2 63.8)" filter="url(#b2)"/><circle cx="358.2" cy="63.8" r="19.0" fill="url(#g3)"/><ellipse cx="346.6" cy="58.6" rx="9.9" ry="8.5" fill="url(#g4)" transform="rotate(-155.9 346.6 58.6)"/><ellipse cx="362.6" cy="52.3" rx="9.9" ry="8.5" fill="url(#g4)" transform="rotate(-69.1 362.6 52.3)"/><ellipse cx="369.3" cy="68.1" rx="9.4" ry="8.1" fill="url(#g5)" transform="rotate(21.2 369.3 68.1)"/><ellipse cx="353.3" cy="74.7" rx="9.4" ry="8.1" fill="url(#g6)" transform="rotate(114.2 353.3 74.7)"/></g>
<rect x="401.2" y="24.1" width="6.8" height="79.6" fill="url(#cb)"/>
<text transform="translate(355.2 16.9) scale(0.950 1)" font-size="14" text-anchor="middle" font-weight="bold"><tspan font-style="italic" dx="0.8">ξ</tspan><tspan dx="-0.9">=0.77</tspan></text>
<rect x="318.8" y="129.2" width="79.2" height="79.5" fill="#2a2f6c"/>
<g clip-path="url(#c6)"><rect x="338.9" y="149.6" width="38.0" height="38.0" rx="14.0" fill="#144c9f" transform="rotate(22.0 357.9 168.6)" filter="url(#b2)"/><circle cx="357.9" cy="168.6" r="18.0" fill="url(#g7)"/><ellipse cx="346.3" cy="163.6" rx="9.9" ry="8.5" fill="url(#g8)" transform="rotate(-156.7 346.3 163.6)"/><ellipse cx="362.8" cy="156.8" rx="9.9" ry="8.5" fill="url(#g9)" transform="rotate(-67.4 362.8 156.8)"/><ellipse cx="369.7" cy="172.6" rx="7.0" ry="11.1" fill="url(#g10)" transform="rotate(18.7 369.7 172.6)"/><ellipse cx="354.4" cy="180.5" rx="7.0" ry="11.1" fill="url(#g10)" transform="rotate(106.4 354.4 180.5)"/></g>
<rect x="401.2" y="129.2" width="6.8" height="79.5" fill="url(#cb)"/>
<text transform="translate(357.1 122.0) scale(0.950 1)" font-size="14" text-anchor="middle" font-weight="bold"><tspan font-style="italic" dx="0.8">ξ</tspan><tspan dx="-0.9">=0.69</tspan></text>
<rect x="441.9" y="24.1" width="79.2" height="79.6" fill="#2a2f6c"/>
<g clip-path="url(#c7)"><ellipse cx="470.9" cy="57.2" rx="7.5" ry="7.5" fill="url(#g11)"/><ellipse cx="487.2" cy="54.0" rx="7.5" ry="7.5" fill="url(#g11)"/><ellipse cx="490.8" cy="69.5" rx="9.0" ry="9.0" fill="url(#g12)"/><ellipse cx="474.9" cy="73.8" rx="9.0" ry="9.0" fill="url(#g13)"/></g>
<rect x="524.4" y="24.1" width="6.8" height="79.6" fill="url(#cb)"/>
<text transform="translate(481.5 16.9) scale(0.950 1)" font-size="14" text-anchor="middle" font-weight="bold"><tspan font-style="italic" dx="0.8">ξ</tspan><tspan dx="-0.9">=1.02</tspan></text>
<rect x="441.9" y="129.2" width="79.2" height="79.5" fill="#2a2f6c"/>
<g clip-path="url(#c8)"><circle cx="481.6" cy="168.6" r="18.0" fill="url(#g14)"/><ellipse cx="491.9" cy="173.9" rx="8.5" ry="8.5" fill="url(#g15)"/><ellipse cx="476.2" cy="179.2" rx="8.5" ry="8.5" fill="url(#g15)"/><ellipse cx="470.3" cy="162.7" rx="7.5" ry="7.5" fill="url(#g16)"/><ellipse cx="486.8" cy="158.0" rx="7.5" ry="7.5" fill="url(#g17)"/></g>
<rect x="524.4" y="129.2" width="6.8" height="79.5" fill="url(#cb)"/>
<text transform="translate(484.9 122.0) scale(0.950 1)" font-size="14" text-anchor="middle" font-weight="bold"><tspan font-style="italic" dx="0.8">ξ</tspan><tspan dx="-0.9">=0.925</tspan></text>
<rect x="319.1" y="281.1" width="79.2" height="79.3" fill="#2a2f6c"/>
<g clip-path="url(#c9)"><circle cx="358.3" cy="320.4" r="25.0" fill="url(#g18)"/><ellipse cx="342.2" cy="314.7" rx="6.4" ry="3.5" fill="url(#g19)" transform="rotate(-70.5 342.2 314.7)"/><ellipse cx="348.8" cy="305.1" rx="6.4" ry="3.5" fill="url(#g20)" transform="rotate(-31.8 348.8 305.1)"/><ellipse cx="364.7" cy="304.1" rx="6.4" ry="3.5" fill="url(#g21)" transform="rotate(21.4 364.7 304.1)"/><ellipse cx="373.6" cy="310.2" rx="6.4" ry="3.5" fill="url(#g22)" transform="rotate(56.3 373.6 310.2)"/><ellipse cx="374.6" cy="327.4" rx="6.4" ry="3.5" fill="url(#g23)" transform="rotate(113.2 374.6 327.4)"/><ellipse cx="366.8" cy="335.2" rx="6.4" ry="3.5" fill="url(#g24)" transform="rotate(150.1 366.8 335.2)"/><ellipse cx="351.9" cy="336.7" rx="6.4" ry="3.5" fill="url(#g23)" transform="rotate(201.4 351.9 336.7)"/><ellipse cx="341.8" cy="327.8" rx="6.4" ry="3.5" fill="url(#g25)" transform="rotate(245.8 341.8 327.8)"/></g>
<rect x="401.9" y="281.1" width="6.8" height="79.3" fill="url(#cb)"/>
<text transform="translate(355.3 273.9) scale(0.950 1)" font-size="14" text-anchor="middle" font-weight="bold"><tspan font-style="italic" dx="0.8">ξ</tspan><tspan dx="-0.9">=0.59</tspan></text>
<rect x="319.1" y="385.7" width="79.2" height="79.0" fill="#2a2f6c"/>
<g clip-path="url(#c10)"><circle cx="358.3" cy="425.6" r="25.0" fill="url(#g18)"/><ellipse cx="348.8" cy="409.7" rx="6.4" ry="3.5" fill="url(#g19)" transform="rotate(-30.9 348.8 409.7)"/><ellipse cx="364.7" cy="408.6" rx="6.4" ry="3.5" fill="url(#g26)" transform="rotate(20.6 364.7 408.6)"/><ellipse cx="373.1" cy="414.6" rx="6.4" ry="3.5" fill="url(#g22)" transform="rotate(53.4 373.1 414.6)"/><ellipse cx="375.0" cy="431.5" rx="6.4" ry="3.5" fill="url(#g27)" transform="rotate(109.5 375.0 431.5)"/><ellipse cx="366.8" cy="440.0" rx="6.4" ry="3.5" fill="url(#g28)" transform="rotate(149.4 366.8 440.0)"/><ellipse cx="353.4" cy="442.1" rx="6.4" ry="3.5" fill="url(#g23)" transform="rotate(196.5 353.4 442.1)"/><ellipse cx="341.8" cy="420.3" rx="6.4" ry="3.5" fill="url(#g20)" transform="rotate(-72.2 341.8 420.3)"/><ellipse cx="342.2" cy="433.0" rx="6.4" ry="3.5" fill="url(#g28)" transform="rotate(245.3 342.2 433.0)"/></g>
<rect x="401.9" y="385.7" width="6.8" height="79.0" fill="url(#cb)"/>
<text transform="translate(355.3 378.5) scale(0.950 1)" font-size="14" text-anchor="middle" font-weight="bold"><tspan font-style="italic" dx="0.8">ξ</tspan><tspan dx="-0.9">=0.53</tspan></text>
<rect x="442.5" y="281.6" width="79.2" height="79.3" fill="#2a2f6c"/>
<g clip-path="url(#c11)"><circle cx="482.6" cy="320.8" r="21.5" fill="url(#g29)"/><ellipse cx="467.0" cy="314.0" rx="7.5" ry="7.5" fill="url(#g30)"/><ellipse cx="475.1" cy="306.0" rx="7.5" ry="7.5" fill="url(#g30)"/><ellipse cx="491.5" cy="306.8" rx="7.5" ry="7.5" fill="url(#g31)"/><ellipse cx="497.4" cy="314.0" rx="7.5" ry="7.5" fill="url(#g32)"/><ellipse cx="487.6" cy="336.0" rx="7.5" ry="7.5" fill="url(#g32)"/><ellipse cx="467.0" cy="326.8" rx="7.5" ry="7.5" fill="url(#g30)"/><ellipse cx="494.6" cy="330.3" rx="7.5" ry="7.5" fill="url(#g33)"/><ellipse cx="473.6" cy="334.3" rx="7.5" ry="7.5" fill="url(#g33)"/><ellipse cx="494.8" cy="310.2" rx="6.5" ry="6.5" fill="url(#g34)"/><ellipse cx="467.0" cy="314.0" rx="6.8" ry="6.8" fill="url(#g35)"/><ellipse cx="475.1" cy="306.0" rx="6.8" ry="6.8" fill="url(#g36)"/><ellipse cx="491.5" cy="306.8" rx="6.8" ry="6.8" fill="url(#g37)"/><ellipse cx="496.2" cy="329.9" rx="6.8" ry="6.8" fill="url(#g38)"/><ellipse cx="473.9" cy="335.2" rx="6.8" ry="6.8" fill="url(#g39)"/></g>
<rect x="525.2" y="281.6" width="6.8" height="79.3" fill="url(#cb)"/>
<text transform="translate(484.1 274.4) scale(0.950 1)" font-size="14" text-anchor="middle" font-weight="bold"><tspan font-style="italic" dx="0.8">ξ</tspan><tspan dx="-0.9">=0.745</tspan></text>
<rect x="442.5" y="385.7" width="79.2" height="79.0" fill="#2a2f6c"/>
<g clip-path="url(#c12)"><circle cx="482.1" cy="425.8" r="21.5" fill="url(#g29)"/><ellipse cx="466.1" cy="420.8" rx="7.5" ry="7.5" fill="url(#g40)"/><ellipse cx="490.1" cy="411.0" rx="7.5" ry="7.5" fill="url(#g30)"/><ellipse cx="496.7" cy="418.3" rx="7.5" ry="7.5" fill="url(#g30)"/><ellipse cx="466.1" cy="432.3" rx="7.5" ry="7.5" fill="url(#g32)"/><ellipse cx="488.1" cy="441.0" rx="7.5" ry="7.5" fill="url(#g33)"/><ellipse cx="474.1" cy="409.8" rx="7.5" ry="7.5" fill="url(#g33)"/><ellipse cx="495.1" cy="433.8" rx="7.5" ry="7.5" fill="url(#g33)"/><ellipse cx="474.1" cy="440.8" rx="7.5" ry="7.5" fill="url(#g33)"/><ellipse cx="493.7" cy="414.4" rx="6.5" ry="6.5" fill="url(#g41)"/><ellipse cx="473.8" cy="409.5" rx="6.8" ry="6.8" fill="url(#g42)"/><ellipse cx="496.1" cy="433.4" rx="6.8" ry="6.8" fill="url(#g38)"/><ellipse cx="474.9" cy="441.3" rx="6.8" ry="6.8" fill="url(#g43)"/><ellipse cx="466.1" cy="420.8" rx="6.8" ry="6.8" fill="url(#g44)"/></g>
<rect x="525.2" y="385.7" width="6.8" height="79.0" fill="url(#cb)"/>
<text transform="translate(484.1 378.5) scale(0.950 1)" font-size="14" text-anchor="middle" font-weight="bold"><tspan font-style="italic" dx="0.8">ξ</tspan><tspan dx="-0.9">=0.665</tspan></text>
<text transform="translate(288.6 39.3) scale(0.950 1)" font-size="13.9" text-anchor="start" font-weight="bold" font-style="normal">1</text>
<text transform="translate(288.6 66.4) scale(0.950 1)" font-size="13.9" text-anchor="start" font-weight="bold" font-style="normal">0.6</text>
<text transform="translate(288.6 93.4) scale(0.950 1)" font-size="13.9" text-anchor="start" font-weight="bold" font-style="normal">0.2</text>
<text transform="translate(409.6 41.8) scale(0.950 1)" font-size="13.9" text-anchor="start" font-weight="bold" font-style="normal">2.5</text>
<text transform="translate(409.6 67.4) scale(0.950 1)" font-size="13.9" text-anchor="start" font-weight="bold" font-style="normal">1.5</text>
<text transform="translate(409.6 93.6) scale(0.950 1)" font-size="13.9" text-anchor="start" font-weight="bold" font-style="normal">0.5</text>
<text transform="translate(532.8 35.2) scale(0.950 1)" font-size="13.9" text-anchor="start" font-weight="bold" font-style="normal">16</text>
<text transform="translate(532.8 52.8) scale(0.950 1)" font-size="13.9" text-anchor="start" font-weight="bold" font-style="normal">12</text>
<text transform="translate(532.8 70.7) scale(0.950 1)" font-size="13.9" text-anchor="start" font-weight="bold" font-style="normal">8</text>
<text transform="translate(532.8 89.0) scale(0.950 1)" font-size="13.9" text-anchor="start" font-weight="bold" font-style="normal">4</text>
<text transform="translate(288.6 146.0) scale(0.950 1)" font-size="13.9" text-anchor="start" font-weight="bold" font-style="normal">1</text>
<text transform="translate(288.6 172.3) scale(0.950 1)" font-size="13.9" text-anchor="start" font-weight="bold" font-style="normal">0.6</text>
<text transform="translate(288.6 198.9) scale(0.950 1)" font-size="13.9" text-anchor="start" font-weight="bold" font-style="normal">0.2</text>
<text transform="translate(409.6 146.2) scale(0.950 1)" font-size="13.9" text-anchor="start" font-weight="bold" font-style="normal">2.5</text>
<text transform="translate(409.6 171.6) scale(0.950 1)" font-size="13.9" text-anchor="start" font-weight="bold" font-style="normal">1.5</text>
<text transform="translate(409.6 197.9) scale(0.950 1)" font-size="13.9" text-anchor="start" font-weight="bold" font-style="normal">0.5</text>
<text transform="translate(532.8 140.1) scale(0.950 1)" font-size="13.9" text-anchor="start" font-weight="bold" font-style="normal">14</text>
<text transform="translate(532.8 160.9) scale(0.950 1)" font-size="13.9" text-anchor="start" font-weight="bold" font-style="normal">10</text>
<text transform="translate(532.8 180.6) scale(0.950 1)" font-size="13.9" text-anchor="start" font-weight="bold" font-style="normal">6</text>
<text transform="translate(532.8 201.3) scale(0.950 1)" font-size="13.9" text-anchor="start" font-weight="bold" font-style="normal">2</text>
<text transform="translate(289.3 290.4) scale(0.950 1)" font-size="13.9" text-anchor="start" font-weight="bold" font-style="normal">1.2</text>
<text transform="translate(289.3 314.5) scale(0.950 1)" font-size="13.9" text-anchor="start" font-weight="bold" font-style="normal">0.8</text>
<text transform="translate(289.3 338.7) scale(0.950 1)" font-size="13.9" text-anchor="start" font-weight="bold" font-style="normal">0.4</text>
<text transform="translate(410.3 296.8) scale(0.950 1)" font-size="13.9" text-anchor="start" font-weight="bold" font-style="normal">3</text>
<text transform="translate(410.3 319.1) scale(0.950 1)" font-size="13.9" text-anchor="start" font-weight="bold" font-style="normal">2</text>
<text transform="translate(410.3 341.1) scale(0.950 1)" font-size="13.9" text-anchor="start" font-weight="bold" font-style="normal">1</text>
<text transform="translate(533.6 296.3) scale(0.950 1)" font-size="13.9" text-anchor="start" font-weight="bold" font-style="normal">12</text>
<text transform="translate(533.6 319.8) scale(0.950 1)" font-size="13.9" text-anchor="start" font-weight="bold" font-style="normal">8</text>
<text transform="translate(533.6 341.4) scale(0.950 1)" font-size="13.9" text-anchor="start" font-weight="bold" font-style="normal">4</text>
<text transform="translate(289.3 395.8) scale(0.950 1)" font-size="13.9" text-anchor="start" font-weight="bold" font-style="normal">1.2</text>
<text transform="translate(289.3 419.7) scale(0.950 1)" font-size="13.9" text-anchor="start" font-weight="bold" font-style="normal">0.8</text>
<text transform="translate(289.3 443.6) scale(0.950 1)" font-size="13.9" text-anchor="start" font-weight="bold" font-style="normal">0.4</text>
<text transform="translate(410.3 395.0) scale(0.950 1)" font-size="13.9" text-anchor="start" font-weight="bold" font-style="normal">3.5</text>
<text transform="translate(410.3 416.0) scale(0.950 1)" font-size="13.9" text-anchor="start" font-weight="bold" font-style="normal">2.5</text>
<text transform="translate(410.3 436.5) scale(0.950 1)" font-size="13.9" text-anchor="start" font-weight="bold" font-style="normal">1.5</text>
<text transform="translate(533.6 398.3) scale(0.950 1)" font-size="13.9" text-anchor="start" font-weight="bold" font-style="normal">12</text>
<text transform="translate(533.6 422.2) scale(0.950 1)" font-size="13.9" text-anchor="start" font-weight="bold" font-style="normal">8</text>
<text transform="translate(533.6 444.6) scale(0.950 1)" font-size="13.9" text-anchor="start" font-weight="bold" font-style="normal">4</text>
<text transform="translate(195.6 36.7) scale(0.950 1)" font-size="12.9" text-anchor="end" font-weight="bold" font-style="normal">-2</text>
<text transform="translate(195.6 67.9) scale(0.950 1)" font-size="12.9" text-anchor="end" font-weight="bold" font-style="normal">0</text>
<text transform="translate(195.6 100.7) scale(0.950 1)" font-size="12.9" text-anchor="end" font-weight="bold" font-style="normal">2</text>
<text transform="translate(177.0 64.2) rotate(-90) scale(1.4 1)" font-size="13.5" font-style="italic" font-weight="normal" text-anchor="middle" stroke="#1a1617" stroke-width="0.2">ζ</text>
<text transform="translate(195.6 141.7) scale(0.950 1)" font-size="12.9" text-anchor="end" font-weight="bold" font-style="normal">-2</text>
<text transform="translate(195.6 172.9) scale(0.950 1)" font-size="12.9" text-anchor="end" font-weight="bold" font-style="normal">0</text>
<text transform="translate(195.6 205.7) scale(0.950 1)" font-size="12.9" text-anchor="end" font-weight="bold" font-style="normal">2</text>
<text transform="translate(177.0 169.2) rotate(-90) scale(1.4 1)" font-size="13.5" font-style="italic" font-weight="normal" text-anchor="middle" stroke="#1a1617" stroke-width="0.2">ζ</text>
<text transform="translate(195.6 293.6) scale(0.950 1)" font-size="12.9" text-anchor="end" font-weight="bold" font-style="normal">-2</text>
<text transform="translate(195.6 324.7) scale(0.950 1)" font-size="12.9" text-anchor="end" font-weight="bold" font-style="normal">0</text>
<text transform="translate(195.6 357.5) scale(0.950 1)" font-size="12.9" text-anchor="end" font-weight="bold" font-style="normal">2</text>
<text transform="translate(177.0 321.1) rotate(-90) scale(1.4 1)" font-size="13.5" font-style="italic" font-weight="normal" text-anchor="middle" stroke="#1a1617" stroke-width="0.2">ζ</text>
<text transform="translate(195.6 398.2) scale(0.950 1)" font-size="12.9" text-anchor="end" font-weight="bold" font-style="normal">-2</text>
<text transform="translate(195.6 429.2) scale(0.950 1)" font-size="12.9" text-anchor="end" font-weight="bold" font-style="normal">0</text>
<text transform="translate(195.6 461.8) scale(0.950 1)" font-size="12.9" text-anchor="end" font-weight="bold" font-style="normal">2</text>
<text transform="translate(177.0 425.5) rotate(-90) scale(1.4 1)" font-size="13.5" font-style="italic" font-weight="normal" text-anchor="middle" stroke="#1a1617" stroke-width="0.2">ζ</text>
<text transform="translate(204.6 220.4) scale(0.950 1)" font-size="12.9" text-anchor="middle" font-weight="bold" font-style="normal">-2</text>
<text transform="translate(236.9 220.4) scale(0.950 1)" font-size="12.9" text-anchor="middle" font-weight="bold" font-style="normal">0</text>
<text transform="translate(268.2 220.4) scale(0.950 1)" font-size="12.9" text-anchor="middle" font-weight="bold" font-style="normal">2</text>
<text transform="translate(236.2 231.3) scale(0.950 1)" font-size="14.0" text-anchor="middle" font-weight="normal" font-style="italic">η</text>
<text transform="translate(325.8 220.4) scale(0.950 1)" font-size="12.9" text-anchor="middle" font-weight="bold" font-style="normal">-2</text>
<text transform="translate(358.0 220.4) scale(0.950 1)" font-size="12.9" text-anchor="middle" font-weight="bold" font-style="normal">0</text>
<text transform="translate(390.0 220.4) scale(0.950 1)" font-size="12.9" text-anchor="middle" font-weight="bold" font-style="normal">2</text>
<text transform="translate(355.2 231.3) scale(0.950 1)" font-size="14.0" text-anchor="middle" font-weight="normal" font-style="italic">η</text>
<text transform="translate(446.4 220.4) scale(0.950 1)" font-size="12.9" text-anchor="middle" font-weight="bold" font-style="normal">-2</text>
<text transform="translate(476.0 220.4) scale(0.950 1)" font-size="12.9" text-anchor="middle" font-weight="bold" font-style="normal">0</text>
<text transform="translate(510.2 220.4) scale(0.950 1)" font-size="12.9" text-anchor="middle" font-weight="bold" font-style="normal">2</text>
<text transform="translate(475.8 231.3) scale(0.950 1)" font-size="14.0" text-anchor="middle" font-weight="normal" font-style="italic">η</text>
<text transform="translate(204.6 476.4) scale(0.950 1)" font-size="12.9" text-anchor="middle" font-weight="bold" font-style="normal">-2</text>
<text transform="translate(236.9 476.4) scale(0.950 1)" font-size="12.9" text-anchor="middle" font-weight="bold" font-style="normal">0</text>
<text transform="translate(268.2 476.4) scale(0.950 1)" font-size="12.9" text-anchor="middle" font-weight="bold" font-style="normal">2</text>
<text transform="translate(236.2 487.3) scale(0.950 1)" font-size="14.0" text-anchor="middle" font-weight="normal" font-style="italic">η</text>
<text transform="translate(325.8 476.4) scale(0.950 1)" font-size="12.9" text-anchor="middle" font-weight="bold" font-style="normal">-2</text>
<text transform="translate(358.0 476.4) scale(0.950 1)" font-size="12.9" text-anchor="middle" font-weight="bold" font-style="normal">0</text>
<text transform="translate(390.0 476.4) scale(0.950 1)" font-size="12.9" text-anchor="middle" font-weight="bold" font-style="normal">2</text>
<text transform="translate(355.2 487.3) scale(0.950 1)" font-size="14.0" text-anchor="middle" font-weight="normal" font-style="italic">η</text>
<text transform="translate(446.4 476.4) scale(0.950 1)" font-size="12.9" text-anchor="middle" font-weight="bold" font-style="normal">-2</text>
<text transform="translate(476.0 476.4) scale(0.950 1)" font-size="12.9" text-anchor="middle" font-weight="bold" font-style="normal">0</text>
<text transform="translate(510.2 476.4) scale(0.950 1)" font-size="12.9" text-anchor="middle" font-weight="bold" font-style="normal">2</text>
<text transform="translate(475.8 487.3) scale(0.950 1)" font-size="14.0" text-anchor="middle" font-weight="normal" font-style="italic">η</text>
<text transform="translate(303.2 251.6) scale(0.950 1)" font-size="21.0" text-anchor="middle" font-weight="bold" font-style="normal">(a)</text>
<text transform="translate(303.6 509.6) scale(0.950 1)" font-size="21.0" text-anchor="middle" font-weight="bold" font-style="normal">(b)</text>
<line x1="37.5" y1="70.0" x2="37.5" y2="26.8" stroke="#e6e6e6" stroke-width="0.60"/><line x1="37.5" y1="70.0" x2="87.8" y2="54.7" stroke="#e6e6e6" stroke-width="0.60"/><line x1="87.8" y1="54.7" x2="126.1" y2="74.9" stroke="#e6e6e6" stroke-width="0.60"/><line x1="37.5" y1="70.0" x2="75.8" y2="90.2" stroke="#e6e6e6" stroke-width="0.60"/><line x1="54.3" y1="64.9" x2="54.3" y2="21.7" stroke="#e6e6e6" stroke-width="0.60"/><line x1="37.5" y1="55.6" x2="87.8" y2="40.3" stroke="#e6e6e6" stroke-width="0.60"/><line x1="87.8" y1="40.3" x2="126.1" y2="60.5" stroke="#e6e6e6" stroke-width="0.60"/><line x1="54.3" y1="64.9" x2="92.6" y2="85.1" stroke="#e6e6e6" stroke-width="0.60"/><line x1="71.0" y1="59.8" x2="71.0" y2="16.6" stroke="#e6e6e6" stroke-width="0.60"/><line x1="37.5" y1="41.2" x2="87.8" y2="25.9" stroke="#e6e6e6" stroke-width="0.60"/><line x1="87.8" y1="25.9" x2="126.1" y2="46.1" stroke="#e6e6e6" stroke-width="0.60"/><line x1="71.0" y1="59.8" x2="109.3" y2="80.0" stroke="#e6e6e6" stroke-width="0.60"/><line x1="87.8" y1="54.7" x2="87.8" y2="11.5" stroke="#e6e6e6" stroke-width="0.60"/><line x1="37.5" y1="26.8" x2="87.8" y2="11.5" stroke="#e6e6e6" stroke-width="0.60"/><line x1="87.8" y1="11.5" x2="126.1" y2="31.7" stroke="#e6e6e6" stroke-width="0.60"/><line x1="87.8" y1="54.7" x2="126.1" y2="74.9" stroke="#e6e6e6" stroke-width="0.60"/><line x1="87.8" y1="54.7" x2="87.8" y2="11.5" stroke="#e6e6e6" stroke-width="0.60"/><line x1="37.5" y1="70.0" x2="87.8" y2="54.7" stroke="#e6e6e6" stroke-width="0.60"/><line x1="106.9" y1="64.8" x2="106.9" y2="21.6" stroke="#e6e6e6" stroke-width="0.60"/><line x1="56.6" y1="80.1" x2="106.9" y2="64.8" stroke="#e6e6e6" stroke-width="0.60"/><line x1="126.1" y1="74.9" x2="126.1" y2="31.7" stroke="#e6e6e6" stroke-width="0.60"/><line x1="75.8" y1="90.2" x2="126.1" y2="74.9" stroke="#e6e6e6" stroke-width="0.60"/><line x1="37.5" y1="70.0" x2="37.5" y2="26.8" stroke="#8c8c8c" stroke-width="0.70"/><line x1="37.5" y1="70.0" x2="75.8" y2="90.2" stroke="#8c8c8c" stroke-width="0.70"/><line x1="75.8" y1="90.2" x2="126.1" y2="74.9" stroke="#8c8c8c" stroke-width="0.70"/>
<line x1="37.6" y1="196.2" x2="37.6" y2="153.0" stroke="#e6e6e6" stroke-width="0.60"/><line x1="37.6" y1="196.2" x2="87.9" y2="180.9" stroke="#e6e6e6" stroke-width="0.60"/><line x1="87.9" y1="180.9" x2="126.2" y2="201.1" stroke="#e6e6e6" stroke-width="0.60"/><line x1="37.6" y1="196.2" x2="75.9" y2="216.4" stroke="#e6e6e6" stroke-width="0.60"/><line x1="54.4" y1="191.1" x2="54.4" y2="147.9" stroke="#e6e6e6" stroke-width="0.60"/><line x1="37.6" y1="181.8" x2="87.9" y2="166.5" stroke="#e6e6e6" stroke-width="0.60"/><line x1="87.9" y1="166.5" x2="126.2" y2="186.7" stroke="#e6e6e6" stroke-width="0.60"/><line x1="54.4" y1="191.1" x2="92.7" y2="211.3" stroke="#e6e6e6" stroke-width="0.60"/><line x1="71.1" y1="186.0" x2="71.1" y2="142.8" stroke="#e6e6e6" stroke-width="0.60"/><line x1="37.6" y1="167.4" x2="87.9" y2="152.1" stroke="#e6e6e6" stroke-width="0.60"/><line x1="87.9" y1="152.1" x2="126.2" y2="172.3" stroke="#e6e6e6" stroke-width="0.60"/><line x1="71.1" y1="186.0" x2="109.4" y2="206.2" stroke="#e6e6e6" stroke-width="0.60"/><line x1="87.9" y1="180.9" x2="87.9" y2="137.7" stroke="#e6e6e6" stroke-width="0.60"/><line x1="37.6" y1="153.0" x2="87.9" y2="137.7" stroke="#e6e6e6" stroke-width="0.60"/><line x1="87.9" y1="137.7" x2="126.2" y2="157.9" stroke="#e6e6e6" stroke-width="0.60"/><line x1="87.9" y1="180.9" x2="126.2" y2="201.1" stroke="#e6e6e6" stroke-width="0.60"/><line x1="87.9" y1="180.9" x2="87.9" y2="137.7" stroke="#e6e6e6" stroke-width="0.60"/><line x1="37.6" y1="196.2" x2="87.9" y2="180.9" stroke="#e6e6e6" stroke-width="0.60"/><line x1="107.0" y1="191.0" x2="107.0" y2="147.8" stroke="#e6e6e6" stroke-width="0.60"/><line x1="56.8" y1="206.3" x2="107.0" y2="191.0" stroke="#e6e6e6" stroke-width="0.60"/><line x1="126.2" y1="201.1" x2="126.2" y2="157.9" stroke="#e6e6e6" stroke-width="0.60"/><line x1="75.9" y1="216.4" x2="126.2" y2="201.1" stroke="#e6e6e6" stroke-width="0.60"/><line x1="37.6" y1="196.2" x2="37.6" y2="153.0" stroke="#8c8c8c" stroke-width="0.70"/><line x1="37.6" y1="196.2" x2="75.9" y2="216.4" stroke="#8c8c8c" stroke-width="0.70"/><line x1="75.9" y1="216.4" x2="126.2" y2="201.1" stroke="#8c8c8c" stroke-width="0.70"/>
<line x1="37.6" y1="333.7" x2="37.6" y2="290.5" stroke="#e6e6e6" stroke-width="0.60"/><line x1="37.6" y1="333.7" x2="87.9" y2="318.4" stroke="#e6e6e6" stroke-width="0.60"/><line x1="87.9" y1="318.4" x2="126.2" y2="338.6" stroke="#e6e6e6" stroke-width="0.60"/><line x1="37.6" y1="333.7" x2="75.9" y2="353.9" stroke="#e6e6e6" stroke-width="0.60"/><line x1="54.4" y1="328.6" x2="54.4" y2="285.4" stroke="#e6e6e6" stroke-width="0.60"/><line x1="37.6" y1="319.3" x2="87.9" y2="304.0" stroke="#e6e6e6" stroke-width="0.60"/><line x1="87.9" y1="304.0" x2="126.2" y2="324.2" stroke="#e6e6e6" stroke-width="0.60"/><line x1="54.4" y1="328.6" x2="92.7" y2="348.8" stroke="#e6e6e6" stroke-width="0.60"/><line x1="71.1" y1="323.5" x2="71.1" y2="280.3" stroke="#e6e6e6" stroke-width="0.60"/><line x1="37.6" y1="304.9" x2="87.9" y2="289.6" stroke="#e6e6e6" stroke-width="0.60"/><line x1="87.9" y1="289.6" x2="126.2" y2="309.8" stroke="#e6e6e6" stroke-width="0.60"/><line x1="71.1" y1="323.5" x2="109.4" y2="343.7" stroke="#e6e6e6" stroke-width="0.60"/><line x1="87.9" y1="318.4" x2="87.9" y2="275.2" stroke="#e6e6e6" stroke-width="0.60"/><line x1="37.6" y1="290.5" x2="87.9" y2="275.2" stroke="#e6e6e6" stroke-width="0.60"/><line x1="87.9" y1="275.2" x2="126.2" y2="295.4" stroke="#e6e6e6" stroke-width="0.60"/><line x1="87.9" y1="318.4" x2="126.2" y2="338.6" stroke="#e6e6e6" stroke-width="0.60"/><line x1="87.9" y1="318.4" x2="87.9" y2="275.2" stroke="#e6e6e6" stroke-width="0.60"/><line x1="37.6" y1="333.7" x2="87.9" y2="318.4" stroke="#e6e6e6" stroke-width="0.60"/><line x1="107.0" y1="328.5" x2="107.0" y2="285.3" stroke="#e6e6e6" stroke-width="0.60"/><line x1="56.8" y1="343.8" x2="107.0" y2="328.5" stroke="#e6e6e6" stroke-width="0.60"/><line x1="126.2" y1="338.6" x2="126.2" y2="295.4" stroke="#e6e6e6" stroke-width="0.60"/><line x1="75.9" y1="353.9" x2="126.2" y2="338.6" stroke="#e6e6e6" stroke-width="0.60"/><line x1="37.6" y1="333.7" x2="37.6" y2="290.5" stroke="#8c8c8c" stroke-width="0.70"/><line x1="37.6" y1="333.7" x2="75.9" y2="353.9" stroke="#8c8c8c" stroke-width="0.70"/><line x1="75.9" y1="353.9" x2="126.2" y2="338.6" stroke="#8c8c8c" stroke-width="0.70"/>
<line x1="37.6" y1="461.7" x2="37.6" y2="418.5" stroke="#e6e6e6" stroke-width="0.60"/><line x1="37.6" y1="461.7" x2="87.9" y2="446.4" stroke="#e6e6e6" stroke-width="0.60"/><line x1="87.9" y1="446.4" x2="126.2" y2="466.6" stroke="#e6e6e6" stroke-width="0.60"/><line x1="37.6" y1="461.7" x2="75.9" y2="481.9" stroke="#e6e6e6" stroke-width="0.60"/><line x1="54.4" y1="456.6" x2="54.4" y2="413.4" stroke="#e6e6e6" stroke-width="0.60"/><line x1="37.6" y1="447.3" x2="87.9" y2="432.0" stroke="#e6e6e6" stroke-width="0.60"/><line x1="87.9" y1="432.0" x2="126.2" y2="452.2" stroke="#e6e6e6" stroke-width="0.60"/><line x1="54.4" y1="456.6" x2="92.7" y2="476.8" stroke="#e6e6e6" stroke-width="0.60"/><line x1="71.1" y1="451.5" x2="71.1" y2="408.3" stroke="#e6e6e6" stroke-width="0.60"/><line x1="37.6" y1="432.9" x2="87.9" y2="417.6" stroke="#e6e6e6" stroke-width="0.60"/><line x1="87.9" y1="417.6" x2="126.2" y2="437.8" stroke="#e6e6e6" stroke-width="0.60"/><line x1="71.1" y1="451.5" x2="109.4" y2="471.7" stroke="#e6e6e6" stroke-width="0.60"/><line x1="87.9" y1="446.4" x2="87.9" y2="403.2" stroke="#e6e6e6" stroke-width="0.60"/><line x1="37.6" y1="418.5" x2="87.9" y2="403.2" stroke="#e6e6e6" stroke-width="0.60"/><line x1="87.9" y1="403.2" x2="126.2" y2="423.4" stroke="#e6e6e6" stroke-width="0.60"/><line x1="87.9" y1="446.4" x2="126.2" y2="466.6" stroke="#e6e6e6" stroke-width="0.60"/><line x1="87.9" y1="446.4" x2="87.9" y2="403.2" stroke="#e6e6e6" stroke-width="0.60"/><line x1="37.6" y1="461.7" x2="87.9" y2="446.4" stroke="#e6e6e6" stroke-width="0.60"/><line x1="107.0" y1="456.5" x2="107.0" y2="413.3" stroke="#e6e6e6" stroke-width="0.60"/><line x1="56.8" y1="471.8" x2="107.0" y2="456.5" stroke="#e6e6e6" stroke-width="0.60"/><line x1="126.2" y1="466.6" x2="126.2" y2="423.4" stroke="#e6e6e6" stroke-width="0.60"/><line x1="75.9" y1="481.9" x2="126.2" y2="466.6" stroke="#e6e6e6" stroke-width="0.60"/><line x1="37.6" y1="461.7" x2="37.6" y2="418.5" stroke="#8c8c8c" stroke-width="0.70"/><line x1="37.6" y1="461.7" x2="75.9" y2="481.9" stroke="#8c8c8c" stroke-width="0.70"/><line x1="75.9" y1="481.9" x2="126.2" y2="466.6" stroke="#8c8c8c" stroke-width="0.70"/>
<g filter="url(#b0)"><path d="M61.8 38.2 L100.4 57.0 L94.0 72.7 L58.0 54.6 A6.4 8.2 -12 0 1 61.8 38.2 Z" fill="url(#hull)"/><ellipse cx="59.6" cy="46.4" rx="5.9" ry="7.8" fill="#eef0f9" opacity="0.4" transform="rotate(-12 59.6 46.4)"/><path transform="translate(62.4 41.1) rotate(25.2)" d="M0 -3.6 L42.0 -2.0 L42.0 2.0 L0 3.6 Z" fill="url(#tube)"/><path transform="translate(54.9 45.4) rotate(26.9)" d="M0 -3.6 L40.6 -2.0 L40.6 2.0 L0 3.6 Z" fill="url(#tube)"/><path transform="translate(63.9 47.4) rotate(25.8)" d="M0 -3.6 L42.7 -2.0 L42.7 2.0 L0 3.6 Z" fill="url(#tube)"/><path transform="translate(57.2 51.7) rotate(27.4)" d="M0 -3.6 L41.4 -2.0 L41.4 2.0 L0 3.6 Z" fill="url(#tube)"/></g><ellipse cx="100.4" cy="59.0" rx="1.6" ry="1.8" fill="#4f7fca" transform="rotate(-15 100.4 59.0)"/><ellipse cx="100.4" cy="59.0" rx="1.0" ry="1.2" fill="#3fb9a0" transform="rotate(-15 100.4 59.0)"/><ellipse cx="91.1" cy="63.7" rx="1.6" ry="1.8" fill="#4f7fca" transform="rotate(-15 91.1 63.7)"/><ellipse cx="91.1" cy="63.7" rx="1.0" ry="1.2" fill="#4fbf8a" transform="rotate(-15 91.1 63.7)"/><ellipse cx="102.3" cy="66.0" rx="1.6" ry="1.8" fill="#4f7fca" transform="rotate(-15 102.3 66.0)"/><ellipse cx="102.3" cy="66.0" rx="1.0" ry="1.2" fill="#2aa5d2" transform="rotate(-15 102.3 66.0)"/><ellipse cx="94.0" cy="70.7" rx="1.6" ry="1.8" fill="#4f7fca" transform="rotate(-15 94.0 70.7)"/><ellipse cx="94.0" cy="70.7" rx="1.0" ry="1.2" fill="#2aa5d2" transform="rotate(-15 94.0 70.7)"/>
<g filter="url(#b0)"><path d="M60.7 164.6 L100.1 183.3 L94.4 198.6 L56.8 180.6 A6.6 8.0 -12 0 1 60.7 164.6 Z" fill="url(#hull)"/><ellipse cx="58.4" cy="172.6" rx="6.1" ry="7.6" fill="#eef0f9" opacity="0.4" transform="rotate(-12 58.4 172.6)"/><path transform="translate(60.9 167.5) rotate(24.4)" d="M0 -3.6 L43.1 -2.0 L43.1 2.0 L0 3.6 Z" fill="url(#tube)"/><path transform="translate(53.7 171.7) rotate(26.0)" d="M0 -3.6 L41.7 -2.0 L41.7 2.0 L0 3.6 Z" fill="url(#tube)"/><path transform="translate(62.8 173.5) rotate(24.9)" d="M0 -3.6 L43.8 -2.0 L43.8 2.0 L0 3.6 Z" fill="url(#tube)"/><path transform="translate(56.3 177.7) rotate(26.4)" d="M0 -3.6 L42.5 -2.0 L42.5 2.0 L0 3.6 Z" fill="url(#tube)"/></g><ellipse cx="100.1" cy="185.3" rx="1.6" ry="1.8" fill="#4f7fca" transform="rotate(-15 100.1 185.3)"/><ellipse cx="100.1" cy="185.3" rx="1.0" ry="1.2" fill="#8cc850" transform="rotate(-15 100.1 185.3)"/><ellipse cx="91.1" cy="190.0" rx="1.6" ry="1.8" fill="#4f7fca" transform="rotate(-15 91.1 190.0)"/><ellipse cx="91.1" cy="190.0" rx="1.0" ry="1.2" fill="#b8d640" transform="rotate(-15 91.1 190.0)"/><ellipse cx="102.5" cy="191.9" rx="1.5" ry="1.7" fill="#a3acde" transform="rotate(-15 102.5 191.9)"/><ellipse cx="94.4" cy="196.6" rx="1.5" ry="1.7" fill="#a3acde" transform="rotate(-15 94.4 196.6)"/>
<g filter="url(#b0)"><path d="M60.6 298.0 L105.5 320.2 L92.5 338.2 L55.3 321.6 A8.8 11.8 -12 0 1 60.6 298.0 Z" fill="url(#hull)"/><ellipse cx="57.5" cy="309.8" rx="8.1" ry="11.2" fill="#eef0f9" opacity="0.4" transform="rotate(-12 57.5 309.8)"/><path transform="translate(61.6 302.8) rotate(23.5)" d="M0 -3.0 L44.1 -1.8 L44.1 1.8 L0 3.0 Z" fill="url(#tube)"/><path transform="translate(64.4 304.3) rotate(23.3)" d="M0 -3.0 L44.8 -1.8 L44.8 1.8 L0 3.0 Z" fill="url(#tube)"/><path transform="translate(54.5 304.6) rotate(24.7)" d="M0 -3.0 L42.5 -1.8 L42.5 1.8 L0 3.0 Z" fill="url(#tube)"/><path transform="translate(51.5 308.9) rotate(25.7)" d="M0 -3.0 L42.0 -1.8 L42.0 1.8 L0 3.0 Z" fill="url(#tube)"/><path transform="translate(63.3 311.0) rotate(24.3)" d="M0 -3.0 L44.8 -1.8 L44.8 1.8 L0 3.0 Z" fill="url(#tube)"/><path transform="translate(50.7 314.7) rotate(26.6)" d="M0 -3.0 L42.2 -1.8 L42.2 1.8 L0 3.0 Z" fill="url(#tube)"/><path transform="translate(54.0 317.2) rotate(26.4)" d="M0 -3.0 L43.0 -1.8 L43.0 1.8 L0 3.0 Z" fill="url(#tube)"/><path transform="translate(60.0 314.9) rotate(25.3)" d="M0 -3.0 L44.2 -1.8 L44.2 1.8 L0 3.0 Z" fill="url(#tube)"/></g><ellipse cx="102.0" cy="320.3" rx="1.5" ry="1.7" fill="#4f7fca" transform="rotate(-15 102.0 320.3)"/><ellipse cx="102.0" cy="320.3" rx="0.9" ry="1.1" fill="#2aa5d2" transform="rotate(-15 102.0 320.3)"/><ellipse cx="105.5" cy="322.0" rx="1.4" ry="1.6" fill="#a3acde" transform="rotate(-15 105.5 322.0)"/><ellipse cx="93.2" cy="322.3" rx="1.4" ry="1.6" fill="#4f7fca" transform="rotate(-15 93.2 322.3)"/><ellipse cx="93.2" cy="322.3" rx="0.8" ry="1.0" fill="#3a86c8" transform="rotate(-15 93.2 322.3)"/><ellipse cx="89.4" cy="327.1" rx="1.4" ry="1.6" fill="#4f7fca" transform="rotate(-15 89.4 327.1)"/><ellipse cx="89.4" cy="327.1" rx="0.8" ry="1.0" fill="#2aa5d2" transform="rotate(-15 89.4 327.1)"/><ellipse cx="104.1" cy="329.5" rx="1.6" ry="1.8" fill="#4f7fca" transform="rotate(-15 104.1 329.5)"/><ellipse cx="104.1" cy="329.5" rx="1.0" ry="1.2" fill="#5fc07a" transform="rotate(-15 104.1 329.5)"/><ellipse cx="88.4" cy="333.6" rx="1.4" ry="1.6" fill="#a3acde" transform="rotate(-15 88.4 333.6)"/><ellipse cx="92.5" cy="336.4" rx="1.6" ry="1.8" fill="#4f7fca" transform="rotate(-15 92.5 336.4)"/><ellipse cx="92.5" cy="336.4" rx="1.0" ry="1.2" fill="#3fb9a0" transform="rotate(-15 92.5 336.4)"/><ellipse cx="100.0" cy="333.8" rx="1.4" ry="1.6" fill="#a3acde" transform="rotate(-15 100.0 333.8)"/>
<g filter="url(#b0)"><path d="M60.6 426.0 L103.0 445.5 L93.5 466.2 L55.3 449.6 A8.8 11.8 -12 0 1 60.6 426.0 Z" fill="url(#hull)"/><ellipse cx="57.5" cy="437.8" rx="8.1" ry="11.2" fill="#eef0f9" opacity="0.4" transform="rotate(-12 57.5 437.8)"/><path transform="translate(54.9 432.4) rotate(24.3)" d="M0 -3.0 L41.7 -1.8 L41.7 1.8 L0 3.0 Z" fill="url(#tube)"/><path transform="translate(63.0 430.4) rotate(22.9)" d="M0 -3.0 L43.5 -1.8 L43.5 1.8 L0 3.0 Z" fill="url(#tube)"/><path transform="translate(64.7 439.2) rotate(23.9)" d="M0 -3.0 L44.3 -1.8 L44.3 1.8 L0 3.0 Z" fill="url(#tube)"/><path transform="translate(51.3 438.1) rotate(25.6)" d="M0 -3.0 L41.2 -1.8 L41.2 1.8 L0 3.0 Z" fill="url(#tube)"/><path transform="translate(55.4 445.8) rotate(26.0)" d="M0 -3.0 L42.4 -1.8 L42.4 1.8 L0 3.0 Z" fill="url(#tube)"/><path transform="translate(51.3 443.2) rotate(26.3)" d="M0 -3.0 L41.4 -1.8 L41.4 1.8 L0 3.0 Z" fill="url(#tube)"/><path transform="translate(61.0 443.6) rotate(24.9)" d="M0 -3.0 L43.6 -1.8 L43.6 1.8 L0 3.0 Z" fill="url(#tube)"/><path transform="translate(58.6 429.7) rotate(23.4)" d="M0 -3.0 L42.4 -1.8 L42.4 1.8 L0 3.0 Z" fill="url(#tube)"/></g><ellipse cx="92.9" cy="449.6" rx="1.6" ry="1.8" fill="#4f7fca" transform="rotate(-15 92.9 449.6)"/><ellipse cx="92.9" cy="449.6" rx="1.0" ry="1.2" fill="#3fb9a0" transform="rotate(-15 92.9 449.6)"/><ellipse cx="103.0" cy="447.3" rx="1.4" ry="1.6" fill="#4f7fca" transform="rotate(-15 103.0 447.3)"/><ellipse cx="103.0" cy="447.3" rx="0.8" ry="1.0" fill="#3a86c8" transform="rotate(-15 103.0 447.3)"/><ellipse cx="105.2" cy="457.1" rx="1.6" ry="1.8" fill="#4f7fca" transform="rotate(-15 105.2 457.1)"/><ellipse cx="105.2" cy="457.1" rx="1.0" ry="1.2" fill="#8cc850" transform="rotate(-15 105.2 457.1)"/><ellipse cx="88.4" cy="455.9" rx="1.4" ry="1.6" fill="#4f7fca" transform="rotate(-15 88.4 455.9)"/><ellipse cx="88.4" cy="455.9" rx="0.8" ry="1.0" fill="#3a86c8" transform="rotate(-15 88.4 455.9)"/><ellipse cx="93.5" cy="464.4" rx="1.6" ry="1.8" fill="#4f7fca" transform="rotate(-15 93.5 464.4)"/><ellipse cx="93.5" cy="464.4" rx="1.0" ry="1.2" fill="#3fb9a0" transform="rotate(-15 93.5 464.4)"/><ellipse cx="88.4" cy="461.6" rx="1.4" ry="1.6" fill="#a3acde" transform="rotate(-15 88.4 461.6)"/><ellipse cx="100.5" cy="462.0" rx="1.4" ry="1.6" fill="#a3acde" transform="rotate(-15 100.5 462.0)"/><ellipse cx="97.5" cy="446.5" rx="1.4" ry="1.6" fill="#a3acde" transform="rotate(-15 97.5 446.5)"/>
<text transform="translate(32.9 30.4) scale(0.950 1)" font-size="7.7" text-anchor="end" font-weight="bold" font-style="normal">2.5</text>
<text transform="translate(32.9 52.0) scale(0.950 1)" font-size="7.7" text-anchor="end" font-weight="bold" font-style="normal">0</text>
<text transform="translate(32.9 73.2) scale(0.950 1)" font-size="7.7" text-anchor="end" font-weight="bold" font-style="normal">-2.5</text>
<text transform="translate(33.0 79.0) scale(0.950 1)" font-size="7.7" text-anchor="middle" font-weight="bold" font-style="normal">0</text>
<text transform="translate(49.0 89.6) scale(0.950 1)" font-size="7.7" text-anchor="middle" font-weight="bold" font-style="normal">0.51</text>
<text transform="translate(66.0 100.5) scale(0.950 1)" font-size="7.7" text-anchor="middle" font-weight="bold" font-style="normal">1.02</text>
<text transform="translate(84.0 100.5) scale(0.950 1)" font-size="7.7" text-anchor="middle" font-weight="bold" font-style="normal">2.5</text>
<text transform="translate(105.0 93.6) scale(0.950 1)" font-size="7.7" text-anchor="middle" font-weight="bold" font-style="normal">0</text>
<text transform="translate(125.0 85.8) scale(0.950 1)" font-size="7.7" text-anchor="middle" font-weight="bold" font-style="normal">-2.5</text>
<text transform="translate(41.3 106.5) scale(0.950 1)" font-size="15.0" text-anchor="middle" font-weight="bold" font-style="italic">ξ</text>
<text transform="translate(111.0 104.0) scale(0.950 1)" font-size="15.0" text-anchor="middle" font-weight="normal" font-style="italic">η</text>
<text transform="translate(16.8 50.0) rotate(-90) scale(1.35 1)" font-size="13.5" font-style="italic" font-weight="normal" text-anchor="middle" stroke="#1a1617" stroke-width="0.2">ζ</text>
<text transform="translate(33.0 156.6) scale(0.950 1)" font-size="7.7" text-anchor="end" font-weight="bold" font-style="normal">2.5</text>
<text transform="translate(31.3 180.8) scale(0.950 1)" font-size="7.7" text-anchor="end" font-weight="bold" font-style="normal">0</text>
<text transform="translate(33.0 199.4) scale(0.950 1)" font-size="7.7" text-anchor="end" font-weight="bold" font-style="normal">-2.5</text>
<text transform="translate(33.1 208.3) scale(0.950 1)" font-size="7.7" text-anchor="middle" font-weight="bold" font-style="normal">0</text>
<text transform="translate(46.3 219.1) scale(0.950 1)" font-size="7.7" text-anchor="middle" font-weight="bold" font-style="normal">0.4625</text>
<text transform="translate(65.1 228.0) scale(0.950 1)" font-size="7.7" text-anchor="middle" font-weight="bold" font-style="normal">0.925</text>
<text transform="translate(82.8 228.0) scale(0.950 1)" font-size="7.7" text-anchor="middle" font-weight="bold" font-style="normal">2.5</text>
<text transform="translate(105.1 221.5) scale(0.950 1)" font-size="7.7" text-anchor="middle" font-weight="bold" font-style="normal">0</text>
<text transform="translate(125.1 214.2) scale(0.950 1)" font-size="7.7" text-anchor="middle" font-weight="bold" font-style="normal">-2.5</text>
<text transform="translate(41.0 235.6) scale(0.950 1)" font-size="15.0" text-anchor="middle" font-weight="bold" font-style="italic">ξ</text>
<text transform="translate(112.1 233.0) scale(0.950 1)" font-size="15.0" text-anchor="middle" font-weight="normal" font-style="italic">η</text>
<text transform="translate(17.9 177.9) rotate(-90) scale(1.35 1)" font-size="13.5" font-style="italic" font-weight="normal" text-anchor="middle" stroke="#1a1617" stroke-width="0.2">ζ</text>
<text transform="translate(34.0 292.4) scale(0.950 1)" font-size="8.2" text-anchor="end" font-weight="bold" font-style="normal">2.5</text>
<text transform="translate(33.4 314.0) scale(0.950 1)" font-size="8.2" text-anchor="end" font-weight="bold" font-style="normal">0</text>
<text transform="translate(34.5 333.0) scale(0.950 1)" font-size="8.2" text-anchor="end" font-weight="bold" font-style="normal">-2.5</text>
<text transform="translate(33.1 340.5) scale(0.950 1)" font-size="8.2" text-anchor="middle" font-weight="bold" font-style="normal">0</text>
<text transform="translate(47.4 351.1) scale(0.950 1)" font-size="8.2" text-anchor="middle" font-weight="bold" font-style="normal">0.3725</text>
<text transform="translate(67.1 362.5) scale(0.950 1)" font-size="8.2" text-anchor="middle" font-weight="bold" font-style="normal">0.745</text>
<text transform="translate(87.4 362.0) scale(0.950 1)" font-size="8.2" text-anchor="middle" font-weight="bold" font-style="normal">2.5</text>
<text transform="translate(105.8 354.7) scale(0.950 1)" font-size="8.2" text-anchor="middle" font-weight="bold" font-style="normal">0</text>
<text transform="translate(128.4 348.2) scale(0.950 1)" font-size="8.2" text-anchor="middle" font-weight="bold" font-style="normal">-2.5</text>
<text transform="translate(41.0 367.6) scale(0.950 1)" font-size="15.0" text-anchor="middle" font-weight="bold" font-style="italic">ξ</text>
<text transform="translate(112.1 364.0) scale(0.950 1)" font-size="15.0" text-anchor="middle" font-weight="normal" font-style="italic">η</text>
<text transform="translate(17.9 304.2) rotate(-90) scale(1.35 1)" font-size="13.5" font-style="italic" font-weight="normal" text-anchor="middle" stroke="#1a1617" stroke-width="0.2">ζ</text>
<text transform="translate(34.0 420.4) scale(0.950 1)" font-size="8.2" text-anchor="end" font-weight="bold" font-style="normal">2.5</text>
<text transform="translate(33.4 442.0) scale(0.950 1)" font-size="8.2" text-anchor="end" font-weight="bold" font-style="normal">0</text>
<text transform="translate(34.5 461.0) scale(0.950 1)" font-size="8.2" text-anchor="end" font-weight="bold" font-style="normal">-2.5</text>
<text transform="translate(33.1 468.5) scale(0.950 1)" font-size="8.2" text-anchor="middle" font-weight="bold" font-style="normal">0</text>
<text transform="translate(47.4 479.1) scale(0.950 1)" font-size="8.2" text-anchor="middle" font-weight="bold" font-style="normal">0.3325</text>
<text transform="translate(67.1 490.5) scale(0.950 1)" font-size="8.2" text-anchor="middle" font-weight="bold" font-style="normal">0.665</text>
<text transform="translate(87.4 490.0) scale(0.950 1)" font-size="8.2" text-anchor="middle" font-weight="bold" font-style="normal">2.5</text>
<text transform="translate(105.8 482.7) scale(0.950 1)" font-size="8.2" text-anchor="middle" font-weight="bold" font-style="normal">0</text>
<text transform="translate(128.4 476.2) scale(0.950 1)" font-size="8.2" text-anchor="middle" font-weight="bold" font-style="normal">-2.5</text>
<text transform="translate(41.0 495.6) scale(0.950 1)" font-size="15.0" text-anchor="middle" font-weight="bold" font-style="italic">ξ</text>
<text transform="translate(112.1 492.0) scale(0.950 1)" font-size="15.0" text-anchor="middle" font-weight="normal" font-style="italic">η</text>
<text transform="translate(17.9 432.2) rotate(-90) scale(1.35 1)" font-size="13.5" font-style="italic" font-weight="normal" text-anchor="middle" stroke="#1a1617" stroke-width="0.2">ζ</text>
<rect x="136.4" y="12.3" width="6.6" height="77.5" fill="url(#cb)"/>
<text transform="translate(146.3 33.1) scale(0.950 1)" font-size="13.6" text-anchor="start" font-weight="bold" font-style="normal">15</text>
<text transform="translate(146.3 53.2) scale(0.950 1)" font-size="13.6" text-anchor="start" font-weight="bold" font-style="normal">10</text>
<text transform="translate(146.3 74.0) scale(0.950 1)" font-size="13.6" text-anchor="start" font-weight="bold" font-style="normal">5</text>
<rect x="136.4" y="138.6" width="6.6" height="76.3" fill="url(#cb)"/>
<text transform="translate(146.3 147.3) scale(0.950 1)" font-size="13.6" text-anchor="start" font-weight="bold" font-style="normal">15</text>
<text transform="translate(146.3 170.2) scale(0.950 1)" font-size="13.6" text-anchor="start" font-weight="bold" font-style="normal">10</text>
<text transform="translate(146.3 196.4) scale(0.950 1)" font-size="13.6" text-anchor="start" font-weight="bold" font-style="normal">5</text>
<rect x="136.4" y="274.8" width="6.6" height="77.9" fill="url(#cb)"/>
<text transform="translate(146.3 281.9) scale(0.950 1)" font-size="13.6" text-anchor="start" font-weight="bold" font-style="normal">14</text>
<text transform="translate(146.3 314.3) scale(0.950 1)" font-size="13.6" text-anchor="start" font-weight="bold" font-style="normal">8</text>
<text transform="translate(146.3 345.4) scale(0.950 1)" font-size="13.6" text-anchor="start" font-weight="bold" font-style="normal">2</text>
<rect x="136.4" y="402.8" width="6.6" height="77.6" fill="url(#cb)"/>
<text transform="translate(146.3 414.8) scale(0.950 1)" font-size="13.6" text-anchor="start" font-weight="bold" font-style="normal">12</text>
<text transform="translate(146.3 439.4) scale(0.950 1)" font-size="13.6" text-anchor="start" font-weight="bold" font-style="normal">8</text>
<text transform="translate(146.3 462.9) scale(0.950 1)" font-size="13.6" text-anchor="start" font-weight="bold" font-style="normal">4</text>
</svg>
</body></html>
